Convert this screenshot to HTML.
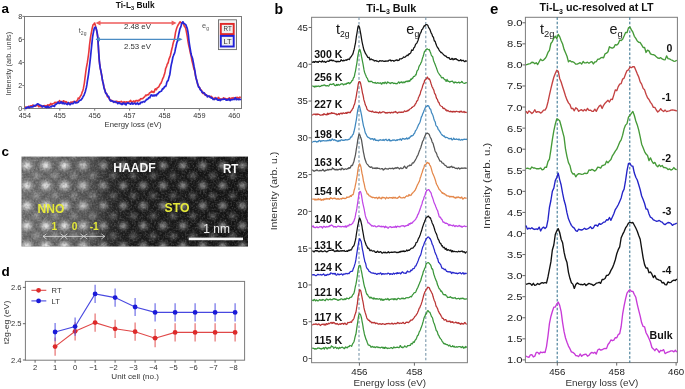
<!DOCTYPE html><html><head><meta charset="utf-8"><style>html,body{margin:0;padding:0;background:#fff;}svg{display:block;will-change:transform;font-family:"Liberation Sans",sans-serif;}</style></head><body><svg width="685" height="389" viewBox="0 0 685 389" font-family='"Liberation Sans", sans-serif'>
<rect width="685" height="389" fill="#fff"/>
<rect x="24.5" y="16.5" width="217.0" height="92.0" fill="none" stroke="#7a7a7a" stroke-width="1"/>
<line x1="24.90" y1="108.50" x2="24.90" y2="110.70" stroke="#7a7a7a" stroke-width="1"/>
<text x="24.9" y="117.6" font-size="7.4" text-anchor="middle" fill="#333" textLength="12.2" lengthAdjust="spacingAndGlyphs">454</text>
<line x1="59.80" y1="108.50" x2="59.80" y2="110.70" stroke="#7a7a7a" stroke-width="1"/>
<text x="59.8" y="117.6" font-size="7.4" text-anchor="middle" fill="#333" textLength="12.2" lengthAdjust="spacingAndGlyphs">455</text>
<line x1="94.70" y1="108.50" x2="94.70" y2="110.70" stroke="#7a7a7a" stroke-width="1"/>
<text x="94.7" y="117.6" font-size="7.4" text-anchor="middle" fill="#333" textLength="12.2" lengthAdjust="spacingAndGlyphs">456</text>
<line x1="129.60" y1="108.50" x2="129.60" y2="110.70" stroke="#7a7a7a" stroke-width="1"/>
<text x="129.6" y="117.6" font-size="7.4" text-anchor="middle" fill="#333" textLength="12.2" lengthAdjust="spacingAndGlyphs">457</text>
<line x1="164.50" y1="108.50" x2="164.50" y2="110.70" stroke="#7a7a7a" stroke-width="1"/>
<text x="164.5" y="117.6" font-size="7.4" text-anchor="middle" fill="#333" textLength="12.2" lengthAdjust="spacingAndGlyphs">458</text>
<line x1="199.40" y1="108.50" x2="199.40" y2="110.70" stroke="#7a7a7a" stroke-width="1"/>
<text x="199.4" y="117.6" font-size="7.4" text-anchor="middle" fill="#333" textLength="12.2" lengthAdjust="spacingAndGlyphs">459</text>
<line x1="234.30" y1="108.50" x2="234.30" y2="110.70" stroke="#7a7a7a" stroke-width="1"/>
<text x="234.3" y="117.6" font-size="7.4" text-anchor="middle" fill="#333" textLength="12.2" lengthAdjust="spacingAndGlyphs">460</text>
<line x1="22.30" y1="108.60" x2="24.50" y2="108.60" stroke="#7a7a7a" stroke-width="1"/>
<text x="22.2" y="111.2" font-size="7.2" text-anchor="end" fill="#333">0</text>
<line x1="22.30" y1="85.55" x2="24.50" y2="85.55" stroke="#7a7a7a" stroke-width="1"/>
<text x="22.2" y="88.1" font-size="7.2" text-anchor="end" fill="#333">2</text>
<line x1="22.30" y1="62.50" x2="24.50" y2="62.50" stroke="#7a7a7a" stroke-width="1"/>
<text x="22.2" y="65.1" font-size="7.2" text-anchor="end" fill="#333">4</text>
<line x1="22.30" y1="39.45" x2="24.50" y2="39.45" stroke="#7a7a7a" stroke-width="1"/>
<text x="22.2" y="42.0" font-size="7.2" text-anchor="end" fill="#333">6</text>
<line x1="22.30" y1="16.40" x2="24.50" y2="16.40" stroke="#7a7a7a" stroke-width="1"/>
<text x="22.2" y="19.0" font-size="7.2" text-anchor="end" fill="#333">8</text>
<text transform="translate(10.6,63.7) rotate(-90)" font-size="7" text-anchor="middle" fill="#444" textLength="63.5" lengthAdjust="spacingAndGlyphs">Intensity  (arb. units)</text>
<text x="133.0" y="126.6" font-size="7.5" text-anchor="middle" fill="#333" textLength="57.0" lengthAdjust="spacingAndGlyphs">Energy loss (eV)</text>
<text x="115.8" y="8.3" font-size="8.4" font-weight="bold" fill="#111">Ti-L<tspan font-size="5.6" dy="2">3</tspan><tspan dy="-2"> Bulk</tspan></text>
<text x="1.4" y="12.8" font-size="13.5" font-weight="bold" fill="#000">a</text>
<path d="M25.10,107.26 L25.62,107.09 L26.13,107.14 L26.65,107.57 L27.16,107.58 L27.68,107.56 L28.19,107.28 L28.71,106.25 L29.22,106.34 L29.74,106.97 L30.25,106.36 L30.77,105.75 L31.28,105.68 L31.80,105.99 L32.31,105.85 L32.83,105.03 L33.34,105.45 L33.86,105.85 L34.37,106.03 L34.89,106.32 L35.40,106.25 L35.92,105.79 L36.43,105.54 L36.95,105.32 L37.46,104.77 L37.98,105.10 L38.49,106.41 L39.01,106.81 L39.52,106.04 L40.04,105.96 L40.55,106.64 L41.07,106.88 L41.58,106.64 L42.10,106.76 L42.61,105.90 L43.13,105.86 L43.64,106.27 L44.16,105.53 L44.67,105.71 L45.19,106.07 L45.70,105.73 L46.22,105.60 L46.73,106.07 L47.25,105.98 L47.76,104.82 L48.28,105.37 L48.79,105.45 L49.31,104.63 L49.82,105.10 L50.34,104.18 L50.85,103.46 L51.37,104.61 L51.88,104.73 L52.40,103.85 L52.91,103.80 L53.43,103.59 L53.94,103.33 L54.46,103.11 L54.97,102.25 L55.49,102.55 L56.00,102.80 L56.52,102.47 L57.03,102.28 L57.55,102.36 L58.06,102.47 L58.58,101.92 L59.09,101.22 L59.61,100.63 L60.12,101.53 L60.64,102.32 L61.15,101.51 L61.67,102.00 L62.18,102.46 L62.70,101.68 L63.21,101.01 L63.73,100.76 L64.24,101.50 L64.76,102.05 L65.27,102.16 L65.79,101.54 L66.30,101.77 L66.82,102.66 L67.33,102.48 L67.85,102.53 L68.36,102.86 L68.88,103.33 L69.39,103.29 L69.91,103.01 L70.42,102.49 L70.94,101.96 L71.45,102.33 L71.97,102.18 L72.48,102.14 L73.00,101.80 L73.51,101.46 L74.03,101.43 L74.54,101.72 L75.06,101.59 L75.57,101.51 L76.09,102.20 L76.60,101.32 L77.12,100.48 L77.63,99.86 L78.15,98.11 L78.66,98.00 L79.18,98.62 L79.69,97.56 L80.21,96.37 L80.72,95.67 L81.24,94.97 L81.75,93.49 L82.27,91.81 L82.78,90.75 L83.30,88.88 L83.81,86.02 L84.33,83.31 L84.84,79.22 L85.36,75.03 L85.87,71.21 L86.39,67.65 L86.90,65.00 L87.42,62.16 L87.93,58.70 L88.45,55.06 L88.96,50.87 L89.48,45.24 L89.99,41.28 L90.51,37.36 L91.02,34.39 L91.54,31.85 L92.05,29.00 L92.57,26.79 L93.08,24.66 L93.60,24.52 L94.11,23.79 L94.63,23.00 L95.14,24.49 L95.66,26.64 L96.17,28.56 L96.69,31.12 L97.21,33.21 L97.72,36.53 L98.24,44.62 L98.75,53.81 L99.27,60.79 L99.78,65.23 L100.30,68.09 L100.81,70.79 L101.33,73.73 L101.84,76.27 L102.36,79.49 L102.87,82.15 L103.39,84.49 L103.90,86.55 L104.42,88.43 L104.93,90.18 L105.45,92.05 L105.96,93.62 L106.48,93.64 L106.99,94.71 L107.51,96.80 L108.02,97.21 L108.54,96.87 L109.05,98.22 L109.57,99.46 L110.08,99.66 L110.60,100.79 L111.11,100.66 L111.63,100.31 L112.14,100.85 L112.66,101.34 L113.17,101.29 L113.69,101.29 L114.20,101.61 L114.72,101.91 L115.23,102.40 L115.75,101.46 L116.26,101.21 L116.78,101.68 L117.29,101.53 L117.81,101.87 L118.32,102.10 L118.84,101.72 L119.35,101.69 L119.87,102.08 L120.38,102.02 L120.90,101.55 L121.41,101.36 L121.93,101.77 L122.44,102.35 L122.96,103.14 L123.47,102.59 L123.99,101.70 L124.50,102.19 L125.02,102.41 L125.53,102.06 L126.05,101.95 L126.56,101.88 L127.08,102.36 L127.59,102.06 L128.11,102.29 L128.62,102.46 L129.14,101.64 L129.65,101.51 L130.17,100.83 L130.68,100.46 L131.20,101.58 L131.71,102.77 L132.23,101.86 L132.74,101.48 L133.26,101.72 L133.77,100.85 L134.29,101.40 L134.80,102.49 L135.32,101.59 L135.83,100.58 L136.35,100.65 L136.86,100.51 L137.38,100.60 L137.89,101.07 L138.41,100.60 L138.92,100.18 L139.44,100.56 L139.95,99.72 L140.47,98.83 L140.98,98.61 L141.50,98.72 L142.01,98.87 L142.53,98.59 L143.04,98.39 L143.56,97.60 L144.07,97.25 L144.59,96.88 L145.10,96.11 L145.62,95.11 L146.13,95.48 L146.65,95.59 L147.16,94.68 L147.68,94.67 L148.19,94.83 L148.71,94.61 L149.22,93.31 L149.74,92.76 L150.25,92.63 L150.77,92.33 L151.28,91.52 L151.80,91.05 L152.31,92.09 L152.83,92.05 L153.34,91.67 L153.86,92.43 L154.37,91.57 L154.89,89.43 L155.40,88.90 L155.92,89.61 L156.43,89.69 L156.95,88.39 L157.46,87.54 L157.98,87.54 L158.49,87.13 L159.01,86.53 L159.52,85.43 L160.04,84.33 L160.55,83.56 L161.07,83.10 L161.58,81.79 L162.10,80.41 L162.61,78.89 L163.13,77.84 L163.64,76.93 L164.16,74.85 L164.67,73.64 L165.19,71.17 L165.70,68.24 L166.22,67.36 L166.73,65.92 L167.25,63.96 L167.76,63.80 L168.28,62.35 L168.79,59.81 L169.31,58.36 L169.83,57.20 L170.34,55.69 L170.86,53.55 L171.37,51.01 L171.89,48.70 L172.40,46.99 L172.92,44.27 L173.43,42.27 L173.95,40.90 L174.46,39.20 L174.98,36.08 L175.49,32.61 L176.01,30.63 L176.52,28.69 L177.04,27.26 L177.55,26.07 L178.07,25.02 L178.58,24.18 L179.10,23.42 L179.61,22.40 L180.13,21.95 L180.64,22.44 L181.16,22.91 L181.67,23.32 L182.19,22.75 L182.70,22.67 L183.22,23.74 L183.73,24.70 L184.25,25.98 L184.76,26.85 L185.28,27.19 L185.79,28.81 L186.31,31.45 L186.82,34.09 L187.34,36.97 L187.85,40.61 L188.37,43.68 L188.88,46.02 L189.40,48.19 L189.91,50.77 L190.43,53.46 L190.94,55.02 L191.46,57.78 L191.97,60.91 L192.49,62.89 L193.00,64.79 L193.52,67.41 L194.03,69.41 L194.55,70.46 L195.06,73.01 L195.58,76.06 L196.09,78.31 L196.61,79.98 L197.12,81.93 L197.64,84.32 L198.15,84.97 L198.67,86.39 L199.18,87.75 L199.70,87.75 L200.21,88.86 L200.73,89.97 L201.24,89.94 L201.76,90.85 L202.27,92.44 L202.79,93.42 L203.30,93.63 L203.82,92.90 L204.33,92.91 L204.85,94.25 L205.36,95.32 L205.88,95.43 L206.39,95.25 L206.91,95.41 L207.42,95.70 L207.94,95.75 L208.45,96.21 L208.97,96.58 L209.48,96.59 L210.00,96.82 L210.51,96.89 L211.03,96.28 L211.54,96.41 L212.06,97.30 L212.57,98.36 L213.09,98.35 L213.60,98.56 L214.12,99.37 L214.63,98.31 L215.15,97.53 L215.66,98.01 L216.18,99.07 L216.69,99.23 L217.21,98.87 L217.72,98.52 L218.24,97.38 L218.75,97.60 L219.27,98.89 L219.78,99.50 L220.30,99.24 L220.81,98.86 L221.33,99.33 L221.84,99.22 L222.36,99.23 L222.87,98.82 L223.39,97.90 L223.90,97.90 L224.42,98.50 L224.93,98.71 L225.45,98.53 L225.96,98.87 L226.48,98.91 L226.99,99.24 L227.51,99.65 L228.02,98.75 L228.54,98.20 L229.05,98.39 L229.57,97.87 L230.08,98.62 L230.60,99.32 L231.11,98.51 L231.63,98.01 L232.14,98.21 L232.66,97.93 L233.17,97.68 L233.69,98.57 L234.20,99.02 L234.72,98.18 L235.23,97.60 L235.75,98.69 L236.26,98.31 L236.78,97.28 L237.29,97.27 L237.81,97.66 L238.32,98.31 L238.84,98.60 L239.35,97.44 L239.87,97.04 L240.38,97.41 L240.90,97.59" fill="none" stroke="#e8383c" stroke-width="1.6" stroke-linejoin="round"/>
<path d="M25.10,107.66 L25.62,108.27 L26.13,108.42 L26.65,107.26 L27.16,107.53 L27.68,107.41 L28.19,106.68 L28.71,107.45 L29.22,107.68 L29.74,107.32 L30.25,106.99 L30.77,106.87 L31.28,107.03 L31.80,106.77 L32.31,106.68 L32.83,106.92 L33.34,106.35 L33.86,105.30 L34.37,105.71 L34.89,105.86 L35.40,105.27 L35.92,105.45 L36.43,104.63 L36.95,104.28 L37.46,103.89 L37.98,103.93 L38.49,104.42 L39.01,104.37 L39.52,105.11 L40.04,105.13 L40.55,105.26 L41.07,105.61 L41.58,105.85 L42.10,106.72 L42.61,106.80 L43.13,106.36 L43.64,105.96 L44.16,106.38 L44.67,106.81 L45.19,107.16 L45.70,106.90 L46.22,106.66 L46.73,107.67 L47.25,107.27 L47.76,106.09 L48.28,106.69 L48.79,107.59 L49.31,107.27 L49.82,107.27 L50.34,106.75 L50.85,106.53 L51.37,106.86 L51.88,106.14 L52.40,105.99 L52.91,105.88 L53.43,105.78 L53.94,106.26 L54.46,106.42 L54.97,104.96 L55.49,104.05 L56.00,104.37 L56.52,103.88 L57.03,103.53 L57.55,103.12 L58.06,102.07 L58.58,102.23 L59.09,103.43 L59.61,103.32 L60.12,103.23 L60.64,102.56 L61.15,101.76 L61.67,102.56 L62.18,103.57 L62.70,103.43 L63.21,102.40 L63.73,103.50 L64.24,103.97 L64.76,103.37 L65.27,103.29 L65.79,103.40 L66.30,104.05 L66.82,104.30 L67.33,104.64 L67.85,103.48 L68.36,102.74 L68.88,103.45 L69.39,104.11 L69.91,104.69 L70.42,104.45 L70.94,103.63 L71.45,103.44 L71.97,103.40 L72.48,103.74 L73.00,103.64 L73.51,103.10 L74.03,102.45 L74.54,101.57 L75.06,102.03 L75.57,102.99 L76.09,102.83 L76.60,102.64 L77.12,102.75 L77.63,102.31 L78.15,102.16 L78.66,101.57 L79.18,100.83 L79.69,100.57 L80.21,100.15 L80.72,100.06 L81.24,99.85 L81.75,99.09 L82.27,98.28 L82.78,97.26 L83.30,96.06 L83.81,95.58 L84.33,94.28 L84.84,92.88 L85.36,91.54 L85.87,89.13 L86.39,87.42 L86.90,84.68 L87.42,80.96 L87.93,78.01 L88.45,74.61 L88.96,70.57 L89.48,66.39 L89.99,61.90 L90.51,57.20 L91.02,51.96 L91.54,46.96 L92.05,41.92 L92.57,37.12 L93.08,34.15 L93.60,31.62 L94.11,28.89 L94.63,27.71 L95.14,27.28 L95.66,27.11 L96.17,28.56 L96.69,30.52 L97.21,33.40 L97.72,37.11 L98.24,44.21 L98.75,53.03 L99.27,59.96 L99.78,64.98 L100.30,68.48 L100.81,70.54 L101.33,73.17 L101.84,76.17 L102.36,79.75 L102.87,81.98 L103.39,83.80 L103.90,87.42 L104.42,89.15 L104.93,90.36 L105.45,92.49 L105.96,93.49 L106.48,93.67 L106.99,94.68 L107.51,96.07 L108.02,96.06 L108.54,96.25 L109.05,97.69 L109.57,99.08 L110.08,100.16 L110.60,100.90 L111.11,100.71 L111.63,100.69 L112.14,101.16 L112.66,101.17 L113.17,101.69 L113.69,102.27 L114.20,101.78 L114.72,101.63 L115.23,101.59 L115.75,101.75 L116.26,102.40 L116.78,102.49 L117.29,102.84 L117.81,103.73 L118.32,103.15 L118.84,102.58 L119.35,102.77 L119.87,103.52 L120.38,103.88 L120.90,103.51 L121.41,103.80 L121.93,104.55 L122.44,104.42 L122.96,103.21 L123.47,102.98 L123.99,103.66 L124.50,103.88 L125.02,103.38 L125.53,104.54 L126.05,104.93 L126.56,103.61 L127.08,103.31 L127.59,102.86 L128.11,102.70 L128.62,103.29 L129.14,103.65 L129.65,103.48 L130.17,103.84 L130.68,104.19 L131.20,103.62 L131.71,102.81 L132.23,103.25 L132.74,104.07 L133.26,103.93 L133.77,103.35 L134.29,103.42 L134.80,103.33 L135.32,103.67 L135.83,104.29 L136.35,103.91 L136.86,103.43 L137.38,102.84 L137.89,103.69 L138.41,104.38 L138.92,103.52 L139.44,103.31 L139.95,103.94 L140.47,103.13 L140.98,102.18 L141.50,102.27 L142.01,102.52 L142.53,102.15 L143.04,101.85 L143.56,101.56 L144.07,101.53 L144.59,101.98 L145.10,101.16 L145.62,100.70 L146.13,100.10 L146.65,99.28 L147.16,99.51 L147.68,99.17 L148.19,98.53 L148.71,97.80 L149.22,97.55 L149.74,97.77 L150.25,96.73 L150.77,95.38 L151.28,94.82 L151.80,95.48 L152.31,95.99 L152.83,95.19 L153.34,95.14 L153.86,95.96 L154.37,95.66 L154.89,94.87 L155.40,95.03 L155.92,95.65 L156.43,95.64 L156.95,94.41 L157.46,93.82 L157.98,93.80 L158.49,93.03 L159.01,92.32 L159.52,92.11 L160.04,91.70 L160.55,91.45 L161.07,91.29 L161.58,90.81 L162.10,89.65 L162.61,88.66 L163.13,88.83 L163.64,88.35 L164.16,87.53 L164.67,86.46 L165.19,86.34 L165.70,86.32 L166.22,85.03 L166.73,82.71 L167.25,81.20 L167.76,81.21 L168.28,80.12 L168.79,77.89 L169.31,76.24 L169.83,74.49 L170.34,70.77 L170.86,67.19 L171.37,64.40 L171.89,62.31 L172.40,59.74 L172.92,56.98 L173.43,55.75 L173.95,54.35 L174.46,53.44 L174.98,51.40 L175.49,48.56 L176.01,46.50 L176.52,43.97 L177.04,42.09 L177.55,40.82 L178.07,38.08 L178.58,35.07 L179.10,32.75 L179.61,30.27 L180.13,28.23 L180.64,27.40 L181.16,25.54 L181.67,23.47 L182.19,22.85 L182.70,21.81 L183.22,21.99 L183.73,23.38 L184.25,23.76 L184.76,23.90 L185.28,24.39 L185.79,24.64 L186.31,26.18 L186.82,27.35 L187.34,28.80 L187.85,31.31 L188.37,34.99 L188.88,39.99 L189.40,43.82 L189.91,47.04 L190.43,50.14 L190.94,53.29 L191.46,55.62 L191.97,56.67 L192.49,58.23 L193.00,60.62 L193.52,63.30 L194.03,66.44 L194.55,68.92 L195.06,71.90 L195.58,75.58 L196.09,78.03 L196.61,80.02 L197.12,82.00 L197.64,83.85 L198.15,85.72 L198.67,87.25 L199.18,87.08 L199.70,87.91 L200.21,89.71 L200.73,90.18 L201.24,90.44 L201.76,91.71 L202.27,92.63 L202.79,92.30 L203.30,92.56 L203.82,93.31 L204.33,93.18 L204.85,93.87 L205.36,94.81 L205.88,95.07 L206.39,94.81 L206.91,95.70 L207.42,96.87 L207.94,96.57 L208.45,96.30 L208.97,96.10 L209.48,96.05 L210.00,97.18 L210.51,97.66 L211.03,97.35 L211.54,98.12 L212.06,97.96 L212.57,98.23 L213.09,99.45 L213.60,99.35 L214.12,99.23 L214.63,99.45 L215.15,98.80 L215.66,98.51 L216.18,98.12 L216.69,98.42 L217.21,99.79 L217.72,100.10 L218.24,99.94 L218.75,100.20 L219.27,99.72 L219.78,99.54 L220.30,100.58 L220.81,100.07 L221.33,99.34 L221.84,99.50 L222.36,99.42 L222.87,99.31 L223.39,99.33 L223.90,99.08 L224.42,98.92 L224.93,99.26 L225.45,99.25 L225.96,99.99 L226.48,100.22 L226.99,99.72 L227.51,99.55 L228.02,99.98 L228.54,99.38 L229.05,98.77 L229.57,99.91 L230.08,100.63 L230.60,100.24 L231.11,99.56 L231.63,99.72 L232.14,99.62 L232.66,99.57 L233.17,99.35 L233.69,99.35 L234.20,99.55 L234.72,98.81 L235.23,97.70 L235.75,98.47 L236.26,99.66 L236.78,99.55 L237.29,98.99 L237.81,99.08 L238.32,99.56 L238.84,99.07 L239.35,99.24 L239.87,99.59 L240.38,99.37 L240.90,99.81" fill="none" stroke="#2626d8" stroke-width="1.7" stroke-linejoin="round"/>
<line x1="99.00" y1="22.90" x2="173.50" y2="22.90" stroke="#ee5a5a" stroke-width="1.5"/>
<path d="M95.5,22.9 L100.5,20.4 L100.5,25.4 Z" fill="#ee5a5a"/>
<path d="M176.6,22.9 L171.6,20.4 L171.6,25.4 Z" fill="#ee5a5a"/>
<line x1="96.00" y1="39.30" x2="179.00" y2="39.30" stroke="#4a8cc4" stroke-width="1.2"/>
<path d="M95.5,39.3 L100,37.2 L100,41.4 Z" fill="#4a8cc4"/>
<path d="M182.6,39.3 L178,37.2 L178,41.4 Z" fill="#4a8cc4"/>
<text x="123.9" y="28.9" font-size="7.6" fill="#333" textLength="27.0" lengthAdjust="spacingAndGlyphs">2.48 eV</text>
<text x="123.9" y="48.6" font-size="7.6" fill="#333" textLength="27.0" lengthAdjust="spacingAndGlyphs">2.53 eV</text>
<text x="78.8" y="33.2" font-size="7.4" fill="#555">t<tspan font-size="5" dy="1.6">2g</tspan></text>
<text x="202" y="28" font-size="7.4" fill="#555">e<tspan font-size="5" dy="1.6">g</tspan></text>
<rect x="218.5" y="19.8" width="18" height="29.8" fill="#f4f4f4" stroke="#6a6a6a" stroke-width="0.9"/>
<rect x="220.8" y="23.9" width="12.9" height="10.2" fill="#efefef" stroke="#e02828" stroke-width="1.9"/>
<rect x="220.8" y="35.9" width="12.9" height="10.6" fill="#efefef" stroke="#2020d8" stroke-width="1.9"/>
<text x="227.6" y="31.3" font-size="7.2" text-anchor="middle" fill="#333" textLength="8.2" lengthAdjust="spacingAndGlyphs">RT</text>
<text x="227.6" y="43.9" font-size="7.2" text-anchor="middle" fill="#333" textLength="8.2" lengthAdjust="spacingAndGlyphs">LT</text>
<rect x="311.6" y="17.3" width="155.79999999999995" height="345.4" fill="none" stroke="#7c7c7c" stroke-width="1"/>
<line x1="308.60" y1="358.50" x2="311.60" y2="358.50" stroke="#666" stroke-width="1"/>
<text x="307.8" y="361.9" font-size="9.6" text-anchor="end" fill="#222">0</text>
<line x1="308.60" y1="321.72" x2="311.60" y2="321.72" stroke="#666" stroke-width="1"/>
<text x="307.8" y="325.1" font-size="9.6" text-anchor="end" fill="#222">5</text>
<line x1="308.60" y1="284.94" x2="311.60" y2="284.94" stroke="#666" stroke-width="1"/>
<text x="307.8" y="288.3" font-size="9.6" text-anchor="end" fill="#222">10</text>
<line x1="308.60" y1="248.16" x2="311.60" y2="248.16" stroke="#666" stroke-width="1"/>
<text x="307.8" y="251.6" font-size="9.6" text-anchor="end" fill="#222">15</text>
<line x1="308.60" y1="211.38" x2="311.60" y2="211.38" stroke="#666" stroke-width="1"/>
<text x="307.8" y="214.8" font-size="9.6" text-anchor="end" fill="#222">20</text>
<line x1="308.60" y1="174.60" x2="311.60" y2="174.60" stroke="#666" stroke-width="1"/>
<text x="307.8" y="178.0" font-size="9.6" text-anchor="end" fill="#222">25</text>
<line x1="308.60" y1="137.82" x2="311.60" y2="137.82" stroke="#666" stroke-width="1"/>
<text x="307.8" y="141.2" font-size="9.6" text-anchor="end" fill="#222">30</text>
<line x1="308.60" y1="101.04" x2="311.60" y2="101.04" stroke="#666" stroke-width="1"/>
<text x="307.8" y="104.4" font-size="9.6" text-anchor="end" fill="#222">35</text>
<line x1="308.60" y1="64.26" x2="311.60" y2="64.26" stroke="#666" stroke-width="1"/>
<text x="307.8" y="67.7" font-size="9.6" text-anchor="end" fill="#222">40</text>
<line x1="308.60" y1="27.48" x2="311.60" y2="27.48" stroke="#666" stroke-width="1"/>
<text x="307.8" y="30.9" font-size="9.6" text-anchor="end" fill="#222">45</text>
<line x1="359.40" y1="362.70" x2="359.40" y2="365.70" stroke="#666" stroke-width="1"/>
<text x="359.4" y="374.8" font-size="9.4" text-anchor="middle" fill="#222" textLength="16.3" lengthAdjust="spacingAndGlyphs">456</text>
<line x1="414.40" y1="362.70" x2="414.40" y2="365.70" stroke="#666" stroke-width="1"/>
<text x="414.4" y="374.8" font-size="9.4" text-anchor="middle" fill="#222" textLength="16.3" lengthAdjust="spacingAndGlyphs">458</text>
<text x="389.8" y="385.6" font-size="9.4" text-anchor="middle" fill="#333" textLength="72.7" lengthAdjust="spacingAndGlyphs">Energy loss (eV)</text>
<text transform="translate(276.8,191) rotate(-90)" font-size="9.6" text-anchor="middle" fill="#333" textLength="78.7" lengthAdjust="spacingAndGlyphs">Intensity (arb. u.)</text>
<text x="366.3" y="11.9" font-size="10.8" font-weight="bold" fill="#111">Ti-L<tspan font-size="7" dy="2.4">3</tspan><tspan dy="-2.4"> Bulk</tspan></text>
<text x="274.4" y="13.7" font-size="14" font-weight="bold" fill="#000">b</text>
<line x1="359.00" y1="17.30" x2="359.00" y2="362.70" stroke="#7a97aa" stroke-width="1.1" stroke-dasharray="2.6,2"/>
<line x1="425.80" y1="17.30" x2="425.80" y2="362.70" stroke="#7a97aa" stroke-width="1.1" stroke-dasharray="2.6,2"/>
<path d="M312.20,62.16 L312.67,62.29 L313.14,61.79 L313.61,61.72 L314.08,62.34 L314.55,62.43 L315.02,61.62 L315.49,61.30 L315.96,61.58 L316.43,62.05 L316.90,61.82 L317.37,61.73 L317.84,62.30 L318.31,62.38 L318.78,61.55 L319.25,61.23 L319.72,61.32 L320.19,61.54 L320.66,61.62 L321.13,61.66 L321.60,62.01 L322.07,61.03 L322.54,60.73 L323.01,61.68 L323.48,61.95 L323.95,61.69 L324.42,61.28 L324.89,61.53 L325.36,62.47 L325.83,62.39 L326.30,61.81 L326.77,61.66 L327.24,61.21 L327.71,61.08 L328.18,61.15 L328.65,61.49 L329.12,61.34 L329.59,60.16 L330.06,60.02 L330.53,60.45 L331.00,60.51 L331.47,59.92 L331.94,60.22 L332.41,60.83 L332.88,60.46 L333.35,60.29 L333.82,60.71 L334.29,61.00 L334.76,61.08 L335.23,61.26 L335.70,61.31 L336.17,61.78 L336.64,61.79 L337.11,61.16 L337.58,61.47 L338.04,61.81 L338.51,61.27 L338.98,61.50 L339.45,61.62 L339.92,61.58 L340.39,61.23 L340.86,60.11 L341.33,59.78 L341.80,60.52 L342.27,60.87 L342.74,60.69 L343.21,60.82 L343.68,60.28 L344.15,60.65 L344.62,60.70 L345.09,60.19 L345.56,59.95 L346.03,59.74 L346.50,60.26 L346.97,60.06 L347.44,59.42 L347.91,59.29 L348.38,59.12 L348.85,59.03 L349.32,59.54 L349.79,58.73 L350.26,57.40 L350.73,57.13 L351.20,56.74 L351.67,55.75 L352.14,55.07 L352.61,54.61 L353.08,53.32 L353.55,51.27 L354.02,49.95 L354.49,47.94 L354.96,45.38 L355.43,43.46 L355.90,39.90 L356.37,36.40 L356.84,33.97 L357.31,31.01 L357.78,27.81 L358.25,25.77 L358.72,25.87 L359.19,26.83 L359.66,28.02 L360.13,30.54 L360.60,33.23 L361.07,35.78 L361.54,38.81 L362.01,41.58 L362.48,43.81 L362.95,45.85 L363.42,48.01 L363.89,49.89 L364.36,50.86 L364.83,51.97 L365.30,53.18 L365.77,53.84 L366.24,54.77 L366.71,55.15 L367.18,56.21 L367.65,57.21 L368.12,57.50 L368.59,57.57 L369.06,57.27 L369.53,58.79 L370.00,59.91 L370.47,59.31 L370.94,58.96 L371.41,59.13 L371.88,59.57 L372.35,59.81 L372.82,59.72 L373.29,60.02 L373.76,60.01 L374.23,60.81 L374.70,61.02 L375.17,60.72 L375.64,60.69 L376.11,60.50 L376.58,61.15 L377.05,61.02 L377.52,61.08 L377.99,61.53 L378.46,61.78 L378.93,61.54 L379.40,60.91 L379.87,60.61 L380.34,60.84 L380.81,60.85 L381.28,60.82 L381.75,61.20 L382.22,61.03 L382.69,60.67 L383.16,60.97 L383.63,61.39 L384.10,61.33 L384.57,61.23 L385.04,61.46 L385.51,61.14 L385.98,60.95 L386.45,61.10 L386.92,61.21 L387.39,61.21 L387.86,60.79 L388.33,61.00 L388.80,60.44 L389.27,60.14 L389.73,60.18 L390.20,59.94 L390.67,60.67 L391.14,61.04 L391.61,60.64 L392.08,60.44 L392.55,60.50 L393.02,60.54 L393.49,61.06 L393.96,60.97 L394.43,61.03 L394.90,60.76 L395.37,60.20 L395.84,60.46 L396.31,60.21 L396.78,59.79 L397.25,60.08 L397.72,60.62 L398.19,60.39 L398.66,60.36 L399.13,60.21 L399.60,58.92 L400.07,58.81 L400.54,58.97 L401.01,58.91 L401.48,58.86 L401.95,58.36 L402.42,58.29 L402.89,57.82 L403.36,57.04 L403.83,56.94 L404.30,57.23 L404.77,57.36 L405.24,56.96 L405.71,56.45 L406.18,56.08 L406.65,55.71 L407.12,55.10 L407.59,55.37 L408.06,55.64 L408.53,54.34 L409.00,53.94 L409.47,54.03 L409.94,53.53 L410.41,53.22 L410.88,52.57 L411.35,50.79 L411.82,49.87 L412.29,50.37 L412.76,50.35 L413.23,49.42 L413.70,48.09 L414.17,47.44 L414.64,47.16 L415.11,45.76 L415.58,44.37 L416.05,43.83 L416.52,43.48 L416.99,42.84 L417.46,41.65 L417.93,40.78 L418.40,39.19 L418.87,37.54 L419.34,36.46 L419.81,34.49 L420.28,33.09 L420.75,32.87 L421.22,31.81 L421.69,29.95 L422.16,29.39 L422.63,29.05 L423.10,27.91 L423.57,27.28 L424.04,26.05 L424.51,25.70 L424.98,26.07 L425.45,25.08 L425.92,24.65 L426.39,24.53 L426.86,24.56 L427.33,25.04 L427.80,25.29 L428.27,26.57 L428.74,27.74 L429.21,28.20 L429.68,29.17 L430.15,29.96 L430.62,31.44 L431.09,32.90 L431.56,33.56 L432.03,34.47 L432.50,36.16 L432.97,36.83 L433.44,37.07 L433.91,39.34 L434.38,41.11 L434.85,40.93 L435.32,41.83 L435.79,43.57 L436.26,44.85 L436.73,46.02 L437.20,46.90 L437.67,47.73 L438.14,48.22 L438.61,48.92 L439.08,50.01 L439.55,50.93 L440.02,51.44 L440.49,51.94 L440.96,52.54 L441.42,52.45 L441.89,52.77 L442.36,53.40 L442.83,53.84 L443.30,54.39 L443.77,54.93 L444.24,55.41 L444.71,55.46 L445.18,56.02 L445.65,56.14 L446.12,56.06 L446.59,56.98 L447.06,57.40 L447.53,57.60 L448.00,57.61 L448.47,57.83 L448.94,57.71 L449.41,57.91 L449.88,59.17 L450.35,59.31 L450.82,59.38 L451.29,59.30 L451.76,58.46 L452.23,58.37 L452.70,59.25 L453.17,59.82 L453.64,58.94 L454.11,58.70 L454.58,59.36 L455.05,59.22 L455.52,58.53 L455.99,58.54 L456.46,59.36 L456.93,59.74 L457.40,59.66 L457.87,60.04 L458.34,60.64 L458.81,60.49 L459.28,60.52 L459.75,60.62 L460.22,60.34 L460.69,59.63 L461.16,59.99 L461.63,60.82 L462.10,60.65 L462.57,60.52 L463.04,60.18 L463.51,60.52 L463.98,61.16 L464.45,61.56 L464.92,61.63 L465.39,60.98 L465.86,60.70 L466.33,61.24 L466.80,61.41" fill="none" stroke="#111111" stroke-width="1.25" stroke-linejoin="round"/>
<text x="314.2" y="57.9" font-size="10.6" font-weight="bold" fill="#111" textLength="28.2" lengthAdjust="spacingAndGlyphs">300 K</text>
<path d="M312.20,86.19 L312.67,86.02 L313.14,86.20 L313.61,86.42 L314.08,86.80 L314.55,87.07 L315.02,85.96 L315.49,86.27 L315.96,86.87 L316.43,86.09 L316.90,86.08 L317.37,86.39 L317.84,86.27 L318.31,86.00 L318.78,85.99 L319.25,86.57 L319.72,86.57 L320.19,86.22 L320.66,86.33 L321.13,85.97 L321.60,85.57 L322.07,85.34 L322.54,85.68 L323.01,85.65 L323.48,85.10 L323.95,85.01 L324.42,84.92 L324.89,85.31 L325.36,85.78 L325.83,85.44 L326.30,85.79 L326.77,85.94 L327.24,85.61 L327.71,85.71 L328.18,86.00 L328.65,86.03 L329.12,85.33 L329.59,84.59 L330.06,84.08 L330.53,84.21 L331.00,84.43 L331.47,84.56 L331.94,84.31 L332.41,84.11 L332.88,84.10 L333.35,83.56 L333.82,83.88 L334.29,85.05 L334.76,85.44 L335.23,85.53 L335.70,85.72 L336.17,84.90 L336.64,84.48 L337.11,85.39 L337.58,85.24 L338.04,84.34 L338.51,84.63 L338.98,85.22 L339.45,85.17 L339.92,84.82 L340.39,84.47 L340.86,84.13 L341.33,83.90 L341.80,83.85 L342.27,83.75 L342.74,83.85 L343.21,84.71 L343.68,84.90 L344.15,84.24 L344.62,84.25 L345.09,83.98 L345.56,83.88 L346.03,84.37 L346.50,83.70 L346.97,83.08 L347.44,83.34 L347.91,83.13 L348.38,82.71 L348.85,82.73 L349.32,83.65 L349.79,83.76 L350.26,82.86 L350.73,82.65 L351.20,82.07 L351.67,80.92 L352.14,80.57 L352.61,80.62 L353.08,78.95 L353.55,77.66 L354.02,77.39 L354.49,75.59 L354.96,73.18 L355.43,71.28 L355.90,68.65 L356.37,65.78 L356.84,63.30 L357.31,59.95 L357.78,56.33 L358.25,53.79 L358.72,51.74 L359.19,50.27 L359.66,49.26 L360.13,50.13 L360.60,52.00 L361.07,53.78 L361.54,56.64 L362.01,58.98 L362.48,61.30 L362.95,63.72 L363.42,66.35 L363.89,69.21 L364.36,71.53 L364.83,73.00 L365.30,74.23 L365.77,75.32 L366.24,76.54 L366.71,77.63 L367.18,78.10 L367.65,79.06 L368.12,80.58 L368.59,81.47 L369.06,81.83 L369.53,81.26 L370.00,81.33 L370.47,81.66 L370.94,81.39 L371.41,81.39 L371.88,81.39 L372.35,82.09 L372.82,82.57 L373.29,82.60 L373.76,82.56 L374.23,82.82 L374.70,82.95 L375.17,82.32 L375.64,82.90 L376.11,83.37 L376.58,83.16 L377.05,83.21 L377.52,82.68 L377.99,82.79 L378.46,82.83 L378.93,83.33 L379.40,83.24 L379.87,82.94 L380.34,83.10 L380.81,82.86 L381.28,83.89 L381.75,84.19 L382.22,83.30 L382.69,82.56 L383.16,82.54 L383.63,82.95 L384.10,83.48 L384.57,83.10 L385.04,82.07 L385.51,82.52 L385.98,83.16 L386.45,83.68 L386.92,83.33 L387.39,81.95 L387.86,82.00 L388.33,82.45 L388.80,82.50 L389.27,83.20 L389.73,82.94 L390.20,83.01 L390.67,83.49 L391.14,82.99 L391.61,82.63 L392.08,82.57 L392.55,82.71 L393.02,83.07 L393.49,83.58 L393.96,83.30 L394.43,83.10 L394.90,83.51 L395.37,83.66 L395.84,83.38 L396.31,83.53 L396.78,83.78 L397.25,83.68 L397.72,83.16 L398.19,82.48 L398.66,81.86 L399.13,82.43 L399.60,83.24 L400.07,82.43 L400.54,82.24 L401.01,82.59 L401.48,81.92 L401.95,81.87 L402.42,82.73 L402.89,82.98 L403.36,82.44 L403.83,81.85 L404.30,82.32 L404.77,82.64 L405.24,81.95 L405.71,81.35 L406.18,81.62 L406.65,81.49 L407.12,80.97 L407.59,81.60 L408.06,81.72 L408.53,80.85 L409.00,80.74 L409.47,81.35 L409.94,81.02 L410.41,79.84 L410.88,78.96 L411.35,79.58 L411.82,78.90 L412.29,78.18 L412.76,78.28 L413.23,77.06 L413.70,76.53 L414.17,76.31 L414.64,76.38 L415.11,75.56 L415.58,74.69 L416.05,74.91 L416.52,72.94 L416.99,71.01 L417.46,70.37 L417.93,69.87 L418.40,68.90 L418.87,66.97 L419.34,65.75 L419.81,65.03 L420.28,64.62 L420.75,63.36 L421.22,62.34 L421.69,61.46 L422.16,59.37 L422.63,57.80 L423.10,56.55 L423.57,54.99 L424.04,53.11 L424.51,51.53 L424.98,51.14 L425.45,50.28 L425.92,49.78 L426.39,49.70 L426.86,48.79 L427.33,48.90 L427.80,49.30 L428.27,49.54 L428.74,49.82 L429.21,49.46 L429.68,50.47 L430.15,51.80 L430.62,52.85 L431.09,54.40 L431.56,55.69 L432.03,56.11 L432.50,56.25 L432.97,57.87 L433.44,60.18 L433.91,61.43 L434.38,62.61 L434.85,63.86 L435.32,64.91 L435.79,66.28 L436.26,67.34 L436.73,68.73 L437.20,70.11 L437.67,71.48 L438.14,72.45 L438.61,73.24 L439.08,73.98 L439.55,74.62 L440.02,75.26 L440.49,75.48 L440.96,76.58 L441.42,77.55 L441.89,77.92 L442.36,77.90 L442.83,77.49 L443.30,77.85 L443.77,78.86 L444.24,78.99 L444.71,79.65 L445.18,79.91 L445.65,79.88 L446.12,81.45 L446.59,80.60 L447.06,79.39 L447.53,80.72 L448.00,81.31 L448.47,81.18 L448.94,81.32 L449.41,81.84 L449.88,82.19 L450.35,81.66 L450.82,81.45 L451.29,81.30 L451.76,81.41 L452.23,81.11 L452.70,81.43 L453.17,82.15 L453.64,82.59 L454.11,83.12 L454.58,82.13 L455.05,82.08 L455.52,82.38 L455.99,82.14 L456.46,82.67 L456.93,82.80 L457.40,82.67 L457.87,82.74 L458.34,82.37 L458.81,82.04 L459.28,82.49 L459.75,83.01 L460.22,82.76 L460.69,82.53 L461.16,82.32 L461.63,81.46 L462.10,81.54 L462.57,82.42 L463.04,82.76 L463.51,83.04 L463.98,83.29 L464.45,83.36 L464.92,83.21 L465.39,83.04 L465.86,82.69 L466.33,82.70 L466.80,83.02" fill="none" stroke="#3a963a" stroke-width="1.25" stroke-linejoin="round"/>
<text x="314.2" y="81.0" font-size="10.6" font-weight="bold" fill="#111" textLength="28.2" lengthAdjust="spacingAndGlyphs">256 K</text>
<path d="M312.20,115.39 L312.67,114.86 L313.14,114.29 L313.61,114.24 L314.08,114.13 L314.55,114.21 L315.02,114.53 L315.49,114.76 L315.96,113.81 L316.43,114.41 L316.90,114.89 L317.37,113.94 L317.84,114.17 L318.31,114.45 L318.78,114.16 L319.25,114.61 L319.72,114.87 L320.19,114.92 L320.66,115.26 L321.13,115.16 L321.60,114.97 L322.07,114.71 L322.54,114.50 L323.01,114.99 L323.48,114.48 L323.95,113.62 L324.42,114.02 L324.89,114.49 L325.36,114.73 L325.83,114.41 L326.30,114.22 L326.77,114.90 L327.24,114.74 L327.71,113.16 L328.18,113.91 L328.65,114.41 L329.12,113.53 L329.59,113.72 L330.06,113.22 L330.53,113.39 L331.00,113.64 L331.47,112.66 L331.94,112.72 L332.41,113.33 L332.88,113.29 L333.35,113.39 L333.82,113.05 L334.29,113.34 L334.76,113.69 L335.23,113.91 L335.70,114.07 L336.17,113.75 L336.64,114.85 L337.11,114.83 L337.58,114.34 L338.04,114.46 L338.51,113.59 L338.98,113.78 L339.45,114.59 L339.92,113.72 L340.39,113.30 L340.86,113.22 L341.33,113.11 L341.80,113.85 L342.27,113.93 L342.74,113.19 L343.21,112.80 L343.68,113.14 L344.15,113.37 L344.62,113.34 L345.09,113.47 L345.56,112.72 L346.03,112.44 L346.50,113.34 L346.97,113.39 L347.44,112.67 L347.91,112.18 L348.38,112.32 L348.85,112.58 L349.32,112.34 L349.79,112.46 L350.26,112.64 L350.73,111.53 L351.20,110.89 L351.67,110.58 L352.14,109.46 L352.61,108.68 L353.08,108.21 L353.55,106.66 L354.02,105.16 L354.49,104.40 L354.96,102.53 L355.43,100.12 L355.90,98.19 L356.37,95.58 L356.84,92.44 L357.31,90.11 L357.78,87.21 L358.25,84.10 L358.72,82.26 L359.19,81.68 L359.66,81.65 L360.13,81.93 L360.60,83.27 L361.07,85.62 L361.54,87.77 L362.01,90.29 L362.48,93.09 L362.95,94.71 L363.42,97.17 L363.89,99.88 L364.36,101.22 L364.83,102.87 L365.30,104.79 L365.77,105.86 L366.24,106.49 L366.71,108.19 L367.18,109.56 L367.65,109.79 L368.12,110.39 L368.59,110.76 L369.06,111.03 L369.53,110.94 L370.00,111.20 L370.47,111.46 L370.94,111.21 L371.41,111.63 L371.88,111.85 L372.35,111.18 L372.82,111.22 L373.29,112.04 L373.76,112.25 L374.23,112.40 L374.70,112.35 L375.17,111.83 L375.64,112.23 L376.11,112.62 L376.58,112.03 L377.05,112.15 L377.52,112.48 L377.99,112.68 L378.46,113.03 L378.93,112.88 L379.40,111.94 L379.87,111.92 L380.34,112.79 L380.81,112.85 L381.28,112.74 L381.75,112.35 L382.22,112.24 L382.69,111.80 L383.16,111.79 L383.63,111.98 L384.10,111.96 L384.57,112.22 L385.04,112.77 L385.51,113.00 L385.98,112.56 L386.45,112.59 L386.92,113.25 L387.39,112.89 L387.86,112.32 L388.33,112.73 L388.80,112.68 L389.27,112.61 L389.73,112.39 L390.20,112.71 L390.67,113.12 L391.14,112.61 L391.61,112.25 L392.08,112.44 L392.55,112.66 L393.02,112.78 L393.49,112.60 L393.96,111.94 L394.43,112.23 L394.90,112.10 L395.37,111.47 L395.84,112.07 L396.31,112.06 L396.78,112.35 L397.25,113.12 L397.72,113.03 L398.19,112.58 L398.66,112.23 L399.13,112.23 L399.60,112.05 L400.07,112.52 L400.54,112.35 L401.01,112.07 L401.48,112.39 L401.95,112.01 L402.42,112.11 L402.89,112.35 L403.36,112.23 L403.83,111.72 L404.30,111.14 L404.77,110.87 L405.24,111.28 L405.71,111.61 L406.18,111.47 L406.65,110.95 L407.12,111.17 L407.59,110.77 L408.06,110.12 L408.53,110.58 L409.00,110.12 L409.47,109.32 L409.94,109.07 L410.41,108.79 L410.88,108.56 L411.35,108.17 L411.82,107.44 L412.29,107.46 L412.76,106.95 L413.23,106.37 L413.70,106.26 L414.17,106.02 L414.64,105.50 L415.11,104.26 L415.58,103.83 L416.05,103.05 L416.52,101.65 L416.99,100.84 L417.46,100.65 L417.93,99.72 L418.40,97.70 L418.87,96.74 L419.34,95.70 L419.81,94.95 L420.28,93.46 L420.75,91.57 L421.22,90.15 L421.69,89.15 L422.16,87.84 L422.63,85.98 L423.10,84.62 L423.57,83.58 L424.04,82.84 L424.51,80.74 L424.98,79.83 L425.45,79.93 L425.92,79.09 L426.39,78.70 L426.86,77.93 L427.33,76.97 L427.80,77.68 L428.27,79.07 L428.74,78.96 L429.21,78.71 L429.68,79.63 L430.15,80.56 L430.62,82.16 L431.09,83.73 L431.56,85.12 L432.03,86.79 L432.50,87.35 L432.97,88.45 L433.44,89.37 L433.91,90.45 L434.38,92.69 L434.85,93.74 L435.32,94.20 L435.79,95.50 L436.26,97.61 L436.73,98.75 L437.20,98.97 L437.67,100.24 L438.14,101.85 L438.61,102.25 L439.08,102.77 L439.55,104.21 L440.02,105.08 L440.49,105.62 L440.96,106.01 L441.42,106.28 L441.89,106.52 L442.36,106.79 L442.83,108.07 L443.30,108.55 L443.77,108.11 L444.24,108.41 L444.71,108.65 L445.18,109.22 L445.65,110.09 L446.12,109.82 L446.59,110.05 L447.06,111.20 L447.53,110.69 L448.00,110.38 L448.47,110.93 L448.94,111.26 L449.41,111.69 L449.88,111.71 L450.35,111.49 L450.82,111.09 L451.29,111.78 L451.76,111.73 L452.23,111.44 L452.70,112.07 L453.17,111.54 L453.64,111.28 L454.11,112.03 L454.58,111.47 L455.05,111.30 L455.52,111.85 L455.99,111.55 L456.46,111.21 L456.93,111.46 L457.40,111.62 L457.87,111.74 L458.34,111.74 L458.81,111.77 L459.28,112.27 L459.75,111.45 L460.22,111.26 L460.69,111.85 L461.16,111.27 L461.63,111.21 L462.10,112.20 L462.57,112.10 L463.04,112.24 L463.51,112.13 L463.98,111.39 L464.45,111.95 L464.92,112.55 L465.39,112.32 L465.86,112.14 L466.33,112.52 L466.80,112.36" fill="none" stroke="#ba3434" stroke-width="1.25" stroke-linejoin="round"/>
<text x="314.2" y="107.5" font-size="10.6" font-weight="bold" fill="#111" textLength="28.2" lengthAdjust="spacingAndGlyphs">227 K</text>
<path d="M312.20,141.95 L312.67,142.09 L313.14,141.56 L313.61,141.50 L314.08,141.27 L314.55,141.57 L315.02,141.48 L315.49,141.14 L315.96,141.53 L316.43,141.90 L316.90,142.07 L317.37,141.51 L317.84,141.44 L318.31,141.53 L318.78,140.88 L319.25,140.56 L319.72,140.40 L320.19,140.82 L320.66,141.65 L321.13,141.23 L321.60,140.78 L322.07,140.74 L322.54,140.82 L323.01,140.79 L323.48,140.52 L323.95,140.67 L324.42,140.77 L324.89,140.86 L325.36,140.93 L325.83,140.97 L326.30,140.71 L326.77,140.91 L327.24,140.62 L327.71,140.42 L328.18,140.57 L328.65,140.45 L329.12,140.70 L329.59,139.86 L330.06,139.71 L330.53,140.60 L331.00,140.58 L331.47,140.17 L331.94,139.21 L332.41,139.05 L332.88,139.50 L333.35,139.99 L333.82,140.31 L334.29,139.92 L334.76,139.60 L335.23,140.15 L335.70,140.63 L336.17,140.38 L336.64,140.94 L337.11,141.07 L337.58,140.83 L338.04,141.56 L338.51,141.26 L338.98,140.33 L339.45,140.63 L339.92,141.20 L340.39,140.56 L340.86,140.01 L341.33,140.12 L341.80,139.71 L342.27,140.15 L342.74,140.30 L343.21,140.15 L343.68,140.37 L344.15,140.26 L344.62,140.18 L345.09,139.72 L345.56,139.60 L346.03,139.91 L346.50,139.94 L346.97,139.68 L347.44,139.75 L347.91,139.89 L348.38,139.46 L348.85,139.31 L349.32,139.12 L349.79,138.90 L350.26,137.93 L350.73,136.96 L351.20,137.02 L351.67,136.93 L352.14,135.70 L352.61,134.75 L353.08,134.45 L353.55,133.18 L354.02,131.52 L354.49,129.33 L354.96,127.28 L355.43,124.59 L355.90,122.09 L356.37,119.53 L356.84,116.43 L357.31,112.95 L357.78,109.88 L358.25,108.17 L358.72,106.32 L359.19,105.54 L359.66,106.76 L360.13,108.60 L360.60,110.64 L361.07,112.85 L361.54,115.04 L362.01,117.87 L362.48,120.69 L362.95,123.21 L363.42,125.55 L363.89,127.37 L364.36,128.53 L364.83,130.97 L365.30,132.91 L365.77,133.65 L366.24,134.49 L366.71,135.52 L367.18,136.44 L367.65,137.06 L368.12,137.28 L368.59,137.32 L369.06,137.93 L369.53,138.13 L370.00,138.39 L370.47,139.21 L370.94,139.11 L371.41,138.68 L371.88,139.05 L372.35,138.94 L372.82,138.61 L373.29,139.37 L373.76,140.09 L374.23,139.32 L374.70,138.69 L375.17,139.48 L375.64,140.36 L376.11,140.38 L376.58,140.21 L377.05,140.55 L377.52,140.42 L377.99,140.36 L378.46,140.79 L378.93,140.12 L379.40,139.98 L379.87,140.31 L380.34,139.92 L380.81,139.65 L381.28,139.98 L381.75,140.24 L382.22,140.41 L382.69,139.87 L383.16,139.41 L383.63,140.33 L384.10,140.54 L384.57,139.97 L385.04,139.82 L385.51,139.47 L385.98,139.18 L386.45,139.93 L386.92,140.39 L387.39,140.62 L387.86,140.51 L388.33,140.05 L388.80,139.26 L389.27,139.26 L389.73,140.78 L390.20,141.01 L390.67,140.30 L391.14,140.47 L391.61,140.77 L392.08,140.47 L392.55,140.07 L393.02,139.98 L393.49,140.35 L393.96,140.03 L394.43,139.90 L394.90,140.28 L395.37,140.52 L395.84,140.59 L396.31,139.91 L396.78,140.15 L397.25,140.35 L397.72,139.57 L398.19,139.63 L398.66,139.75 L399.13,139.94 L399.60,139.56 L400.07,138.81 L400.54,139.11 L401.01,139.97 L401.48,140.32 L401.95,139.40 L402.42,138.46 L402.89,138.61 L403.36,138.69 L403.83,138.91 L404.30,139.28 L404.77,139.00 L405.24,138.72 L405.71,139.10 L406.18,138.82 L406.65,137.79 L407.12,138.32 L407.59,139.03 L408.06,138.39 L408.53,137.98 L409.00,138.65 L409.47,137.96 L409.94,136.91 L410.41,137.05 L410.88,136.13 L411.35,135.60 L411.82,136.14 L412.29,135.75 L412.76,135.39 L413.23,135.18 L413.70,134.19 L414.17,133.53 L414.64,133.16 L415.11,131.75 L415.58,130.58 L416.05,130.05 L416.52,129.28 L416.99,128.45 L417.46,127.16 L417.93,126.27 L418.40,125.03 L418.87,124.16 L419.34,123.62 L419.81,122.49 L420.28,121.22 L420.75,119.28 L421.22,117.36 L421.69,116.36 L422.16,115.46 L422.63,114.01 L423.10,112.94 L423.57,111.94 L424.04,110.50 L424.51,109.58 L424.98,108.59 L425.45,107.20 L425.92,106.78 L426.39,106.61 L426.86,106.55 L427.33,105.54 L427.80,105.63 L428.27,106.03 L428.74,105.90 L429.21,107.16 L429.68,108.53 L430.15,109.02 L430.62,109.16 L431.09,110.93 L431.56,112.80 L432.03,113.44 L432.50,114.55 L432.97,115.57 L433.44,117.19 L433.91,118.97 L434.38,120.49 L434.85,121.27 L435.32,122.34 L435.79,124.91 L436.26,125.87 L436.73,126.31 L437.20,126.70 L437.67,127.75 L438.14,129.29 L438.61,129.87 L439.08,130.18 L439.55,131.15 L440.02,132.02 L440.49,132.49 L440.96,133.51 L441.42,134.20 L441.89,134.60 L442.36,135.38 L442.83,135.42 L443.30,135.95 L443.77,136.31 L444.24,135.87 L444.71,136.56 L445.18,137.36 L445.65,137.63 L446.12,137.45 L446.59,137.33 L447.06,137.56 L447.53,137.63 L448.00,138.04 L448.47,138.41 L448.94,138.85 L449.41,138.78 L449.88,138.33 L450.35,138.80 L450.82,138.56 L451.29,138.28 L451.76,139.62 L452.23,139.89 L452.70,139.51 L453.17,139.24 L453.64,138.04 L454.11,138.59 L454.58,139.41 L455.05,139.37 L455.52,139.32 L455.99,139.08 L456.46,138.81 L456.93,139.37 L457.40,139.31 L457.87,139.33 L458.34,139.77 L458.81,139.13 L459.28,139.02 L459.75,139.71 L460.22,140.19 L460.69,140.06 L461.16,139.88 L461.63,139.39 L462.10,139.80 L462.57,140.04 L463.04,139.45 L463.51,139.44 L463.98,139.51 L464.45,139.22 L464.92,139.23 L465.39,139.45 L465.86,139.44 L466.33,139.16 L466.80,139.96" fill="none" stroke="#3f88bf" stroke-width="1.25" stroke-linejoin="round"/>
<text x="314.2" y="138.1" font-size="10.6" font-weight="bold" fill="#111" textLength="28.2" lengthAdjust="spacingAndGlyphs">198 K</text>
<path d="M312.20,169.99 L312.67,170.07 L313.14,170.56 L313.61,170.78 L314.08,171.27 L314.55,171.08 L315.02,170.70 L315.49,170.41 L315.96,170.65 L316.43,170.34 L316.90,169.78 L317.37,170.30 L317.84,170.61 L318.31,170.77 L318.78,170.90 L319.25,170.81 L319.72,170.44 L320.19,170.31 L320.66,170.75 L321.13,170.77 L321.60,170.60 L322.07,170.45 L322.54,169.56 L323.01,169.40 L323.48,170.09 L323.95,170.79 L324.42,171.13 L324.89,171.13 L325.36,170.44 L325.83,170.12 L326.30,170.31 L326.77,170.22 L327.24,170.16 L327.71,169.45 L328.18,169.60 L328.65,170.03 L329.12,169.93 L329.59,169.37 L330.06,169.27 L330.53,169.74 L331.00,169.71 L331.47,169.69 L331.94,169.04 L332.41,167.78 L332.88,168.31 L333.35,168.92 L333.82,168.66 L334.29,169.45 L334.76,169.75 L335.23,169.59 L335.70,169.81 L336.17,169.19 L336.64,169.62 L337.11,170.13 L337.58,169.42 L338.04,169.71 L338.51,169.75 L338.98,169.26 L339.45,169.23 L339.92,169.34 L340.39,169.13 L340.86,169.87 L341.33,169.58 L341.80,168.16 L342.27,168.27 L342.74,168.62 L343.21,169.33 L343.68,169.63 L344.15,169.38 L344.62,169.45 L345.09,168.81 L345.56,168.80 L346.03,169.06 L346.50,169.31 L346.97,169.21 L347.44,168.46 L347.91,168.50 L348.38,168.61 L348.85,167.61 L349.32,167.57 L349.79,168.28 L350.26,167.88 L350.73,166.84 L351.20,165.52 L351.67,165.31 L352.14,165.61 L352.61,165.10 L353.08,163.60 L353.55,162.60 L354.02,161.07 L354.49,158.63 L354.96,157.06 L355.43,154.96 L355.90,152.08 L356.37,148.84 L356.84,146.24 L357.31,143.10 L357.78,139.73 L358.25,137.57 L358.72,135.32 L359.19,134.03 L359.66,134.39 L360.13,135.71 L360.60,137.32 L361.07,138.53 L361.54,140.15 L362.01,143.12 L362.48,146.12 L362.95,149.17 L363.42,152.09 L363.89,154.15 L364.36,156.56 L364.83,158.81 L365.30,160.05 L365.77,161.22 L366.24,162.77 L366.71,163.54 L367.18,164.11 L367.65,164.60 L368.12,165.08 L368.59,165.97 L369.06,166.31 L369.53,166.59 L370.00,167.12 L370.47,167.42 L370.94,167.16 L371.41,166.99 L371.88,166.96 L372.35,167.84 L372.82,168.48 L373.29,168.17 L373.76,168.08 L374.23,168.17 L374.70,168.46 L375.17,168.14 L375.64,167.97 L376.11,168.65 L376.58,168.32 L377.05,167.68 L377.52,168.32 L377.99,168.41 L378.46,168.49 L378.93,168.43 L379.40,168.29 L379.87,168.92 L380.34,168.99 L380.81,169.00 L381.28,168.83 L381.75,168.55 L382.22,168.61 L382.69,168.85 L383.16,170.03 L383.63,169.83 L384.10,169.27 L384.57,169.23 L385.04,168.26 L385.51,168.25 L385.98,168.74 L386.45,168.88 L386.92,168.79 L387.39,168.91 L387.86,169.04 L388.33,169.16 L388.80,168.58 L389.27,168.29 L389.73,168.35 L390.20,168.41 L390.67,168.68 L391.14,168.64 L391.61,168.50 L392.08,168.17 L392.55,168.22 L393.02,168.68 L393.49,168.98 L393.96,168.22 L394.43,168.04 L394.90,168.63 L395.37,168.05 L395.84,167.58 L396.31,167.85 L396.78,168.29 L397.25,167.68 L397.72,167.40 L398.19,167.93 L398.66,168.08 L399.13,168.66 L399.60,168.99 L400.07,168.36 L400.54,167.77 L401.01,167.92 L401.48,168.36 L401.95,168.69 L402.42,168.36 L402.89,168.30 L403.36,167.84 L403.83,166.93 L404.30,166.23 L404.77,166.23 L405.24,167.22 L405.71,167.68 L406.18,168.47 L406.65,168.26 L407.12,167.08 L407.59,166.43 L408.06,166.01 L408.53,165.94 L409.00,165.86 L409.47,165.61 L409.94,164.96 L410.41,165.23 L410.88,165.53 L411.35,165.29 L411.82,164.25 L412.29,162.97 L412.76,162.79 L413.23,163.08 L413.70,162.71 L414.17,161.79 L414.64,161.16 L415.11,160.43 L415.58,159.51 L416.05,158.74 L416.52,157.73 L416.99,156.57 L417.46,155.91 L417.93,154.93 L418.40,153.83 L418.87,152.34 L419.34,151.03 L419.81,149.89 L420.28,148.59 L420.75,147.78 L421.22,145.96 L421.69,144.42 L422.16,143.08 L422.63,141.21 L423.10,140.60 L423.57,139.73 L424.04,138.14 L424.51,136.98 L424.98,136.19 L425.45,134.83 L425.92,133.84 L426.39,133.45 L426.86,133.20 L427.33,133.13 L427.80,133.35 L428.27,133.76 L428.74,133.83 L429.21,134.49 L429.68,135.65 L430.15,136.98 L430.62,137.87 L431.09,138.60 L431.56,140.00 L432.03,141.66 L432.50,142.76 L432.97,143.09 L433.44,144.73 L433.91,146.78 L434.38,147.91 L434.85,150.15 L435.32,151.51 L435.79,152.15 L436.26,152.93 L436.73,153.92 L437.20,155.69 L437.67,156.69 L438.14,157.35 L438.61,158.36 L439.08,159.28 L439.55,160.31 L440.02,161.09 L440.49,161.09 L440.96,161.01 L441.42,161.60 L441.89,162.66 L442.36,162.98 L442.83,163.17 L443.30,163.41 L443.77,163.75 L444.24,164.64 L444.71,165.19 L445.18,165.36 L445.65,165.58 L446.12,165.79 L446.59,166.33 L447.06,167.24 L447.53,167.36 L448.00,167.48 L448.47,167.38 L448.94,166.85 L449.41,167.52 L449.88,167.40 L450.35,166.68 L450.82,166.95 L451.29,166.78 L451.76,166.28 L452.23,167.26 L452.70,167.59 L453.17,167.12 L453.64,167.38 L454.11,167.27 L454.58,167.68 L455.05,168.21 L455.52,168.29 L455.99,168.38 L456.46,168.19 L456.93,168.44 L457.40,168.78 L457.87,168.17 L458.34,167.89 L458.81,167.98 L459.28,168.59 L459.75,168.99 L460.22,168.59 L460.69,168.35 L461.16,168.39 L461.63,168.12 L462.10,167.97 L462.57,168.29 L463.04,168.28 L463.51,168.08 L463.98,168.26 L464.45,168.14 L464.92,167.86 L465.39,168.18 L465.86,168.33 L466.33,168.23 L466.80,167.94" fill="none" stroke="#555555" stroke-width="1.25" stroke-linejoin="round"/>
<text x="314.2" y="166.2" font-size="10.6" font-weight="bold" fill="#111" textLength="28.2" lengthAdjust="spacingAndGlyphs">163 K</text>
<path d="M312.20,199.20 L312.67,199.08 L313.14,199.09 L313.61,199.17 L314.08,199.04 L314.55,199.09 L315.02,200.14 L315.49,199.70 L315.96,199.00 L316.43,199.79 L316.90,199.88 L317.37,199.78 L317.84,199.05 L318.31,198.60 L318.78,199.76 L319.25,199.74 L319.72,199.36 L320.19,198.92 L320.66,199.12 L321.13,200.44 L321.60,200.07 L322.07,199.46 L322.54,199.61 L323.01,200.17 L323.48,199.89 L323.95,198.67 L324.42,199.41 L324.89,199.55 L325.36,199.12 L325.83,198.72 L326.30,198.38 L326.77,199.15 L327.24,198.89 L327.71,198.59 L328.18,199.04 L328.65,198.86 L329.12,198.70 L329.59,199.33 L330.06,198.35 L330.53,197.72 L331.00,198.42 L331.47,198.10 L331.94,198.35 L332.41,198.89 L332.88,198.62 L333.35,198.46 L333.82,198.41 L334.29,198.03 L334.76,198.34 L335.23,198.66 L335.70,198.41 L336.17,198.98 L336.64,199.15 L337.11,199.12 L337.58,198.86 L338.04,198.41 L338.51,198.72 L338.98,199.27 L339.45,199.21 L339.92,199.00 L340.39,198.78 L340.86,198.54 L341.33,198.99 L341.80,198.61 L342.27,198.08 L342.74,198.52 L343.21,198.33 L343.68,198.18 L344.15,198.59 L344.62,198.39 L345.09,198.46 L345.56,198.57 L346.03,198.30 L346.50,197.58 L346.97,196.95 L347.44,197.41 L347.91,197.25 L348.38,197.04 L348.85,197.28 L349.32,196.81 L349.79,196.63 L350.26,195.90 L350.73,195.62 L351.20,196.42 L351.67,195.65 L352.14,194.86 L352.61,194.70 L353.08,194.69 L353.55,193.24 L354.02,190.76 L354.49,189.28 L354.96,187.39 L355.43,184.94 L355.90,182.78 L356.37,180.23 L356.84,177.42 L357.31,174.65 L357.78,170.90 L358.25,167.74 L358.72,166.12 L359.19,164.59 L359.66,163.79 L360.13,164.69 L360.60,165.80 L361.07,167.60 L361.54,170.61 L362.01,173.46 L362.48,175.11 L362.95,177.91 L363.42,180.96 L363.89,182.65 L364.36,184.67 L364.83,187.17 L365.30,189.16 L365.77,190.19 L366.24,191.08 L366.71,192.38 L367.18,193.89 L367.65,194.10 L368.12,193.98 L368.59,194.69 L369.06,195.65 L369.53,195.98 L370.00,196.04 L370.47,196.14 L370.94,196.78 L371.41,197.19 L371.88,196.99 L372.35,197.52 L372.82,197.51 L373.29,197.26 L373.76,197.55 L374.23,197.52 L374.70,197.91 L375.17,198.13 L375.64,197.60 L376.11,197.55 L376.58,197.39 L377.05,197.91 L377.52,198.78 L377.99,198.35 L378.46,197.76 L378.93,197.20 L379.40,197.17 L379.87,198.15 L380.34,198.11 L380.81,198.12 L381.28,198.87 L381.75,197.79 L382.22,197.22 L382.69,197.84 L383.16,197.77 L383.63,197.43 L384.10,197.53 L384.57,197.72 L385.04,198.14 L385.51,198.97 L385.98,198.19 L386.45,197.27 L386.92,197.56 L387.39,197.96 L387.86,198.06 L388.33,198.34 L388.80,197.90 L389.27,197.46 L389.73,197.78 L390.20,197.86 L390.67,197.67 L391.14,197.61 L391.61,197.69 L392.08,198.21 L392.55,198.27 L393.02,197.18 L393.49,197.49 L393.96,198.20 L394.43,197.73 L394.90,197.36 L395.37,197.42 L395.84,198.21 L396.31,198.22 L396.78,198.05 L397.25,198.44 L397.72,197.86 L398.19,197.65 L398.66,197.53 L399.13,196.39 L399.60,196.36 L400.07,197.09 L400.54,197.57 L401.01,197.95 L401.48,197.95 L401.95,197.86 L402.42,197.81 L402.89,197.78 L403.36,197.43 L403.83,197.46 L404.30,197.76 L404.77,197.79 L405.24,197.10 L405.71,196.54 L406.18,196.24 L406.65,195.80 L407.12,196.10 L407.59,196.06 L408.06,196.24 L408.53,195.54 L409.00,194.49 L409.47,195.06 L409.94,195.56 L410.41,195.08 L410.88,195.00 L411.35,195.02 L411.82,193.81 L412.29,193.11 L412.76,193.04 L413.23,192.26 L413.70,191.87 L414.17,191.47 L414.64,190.64 L415.11,190.27 L415.58,189.19 L416.05,188.39 L416.52,187.03 L416.99,185.93 L417.46,184.87 L417.93,183.94 L418.40,183.23 L418.87,182.05 L419.34,181.41 L419.81,179.67 L420.28,177.67 L420.75,176.75 L421.22,175.18 L421.69,173.61 L422.16,172.52 L422.63,170.75 L423.10,169.24 L423.57,168.62 L424.04,167.06 L424.51,165.18 L424.98,164.82 L425.45,164.46 L425.92,164.17 L426.39,163.77 L426.86,162.75 L427.33,162.33 L427.80,162.97 L428.27,163.34 L428.74,162.99 L429.21,163.60 L429.68,165.12 L430.15,165.56 L430.62,166.33 L431.09,167.93 L431.56,169.54 L432.03,171.37 L432.50,172.91 L432.97,173.94 L433.44,175.02 L433.91,176.13 L434.38,177.23 L434.85,178.60 L435.32,179.99 L435.79,181.62 L436.26,183.57 L436.73,184.55 L437.20,185.25 L437.67,186.32 L438.14,187.07 L438.61,188.16 L439.08,189.28 L439.55,189.70 L440.02,190.04 L440.49,190.89 L440.96,191.39 L441.42,191.82 L441.89,192.83 L442.36,193.22 L442.83,192.73 L443.30,193.36 L443.77,193.94 L444.24,193.61 L444.71,193.80 L445.18,194.77 L445.65,194.84 L446.12,194.76 L446.59,195.68 L447.06,195.96 L447.53,195.85 L448.00,195.91 L448.47,196.29 L448.94,196.01 L449.41,196.30 L449.88,197.14 L450.35,196.75 L450.82,196.28 L451.29,196.26 L451.76,196.89 L452.23,196.97 L452.70,196.53 L453.17,196.38 L453.64,196.98 L454.11,197.52 L454.58,197.26 L455.05,197.88 L455.52,198.07 L455.99,197.24 L456.46,197.20 L456.93,197.83 L457.40,197.44 L457.87,196.92 L458.34,196.92 L458.81,197.51 L459.28,197.88 L459.75,197.32 L460.22,197.54 L460.69,198.13 L461.16,197.68 L461.63,196.97 L462.10,197.62 L462.57,198.97 L463.04,199.08 L463.51,198.60 L463.98,198.20 L464.45,197.70 L464.92,197.71 L465.39,198.15 L465.86,198.07 L466.33,198.17 L466.80,198.25" fill="none" stroke="#e4874a" stroke-width="1.25" stroke-linejoin="round"/>
<text x="314.2" y="195.0" font-size="10.6" font-weight="bold" fill="#111" textLength="28.2" lengthAdjust="spacingAndGlyphs">154 K</text>
<path d="M312.20,227.11 L312.67,226.25 L313.14,225.79 L313.61,226.91 L314.08,227.49 L314.55,227.37 L315.02,227.58 L315.49,227.68 L315.96,227.39 L316.43,226.88 L316.90,226.78 L317.37,227.32 L317.84,227.61 L318.31,227.74 L318.78,227.33 L319.25,227.03 L319.72,226.65 L320.19,226.78 L320.66,226.81 L321.13,226.53 L321.60,226.87 L322.07,227.59 L322.54,228.00 L323.01,227.13 L323.48,226.27 L323.95,226.44 L324.42,226.64 L324.89,226.83 L325.36,227.19 L325.83,227.26 L326.30,226.82 L326.77,226.47 L327.24,226.82 L327.71,226.97 L328.18,226.64 L328.65,226.32 L329.12,226.63 L329.59,226.03 L330.06,225.52 L330.53,225.90 L331.00,225.38 L331.47,224.96 L331.94,225.42 L332.41,225.59 L332.88,225.97 L333.35,226.46 L333.82,226.98 L334.29,226.54 L334.76,226.57 L335.23,226.87 L335.70,226.64 L336.17,227.24 L336.64,227.09 L337.11,226.73 L337.58,226.48 L338.04,226.01 L338.51,226.08 L338.98,226.35 L339.45,226.64 L339.92,226.67 L340.39,226.41 L340.86,226.76 L341.33,226.81 L341.80,226.65 L342.27,226.53 L342.74,226.34 L343.21,226.53 L343.68,226.85 L344.15,226.40 L344.62,226.65 L345.09,227.03 L345.56,225.93 L346.03,226.53 L346.50,227.17 L346.97,226.00 L347.44,226.21 L347.91,225.50 L348.38,225.68 L348.85,225.91 L349.32,224.44 L349.79,224.43 L350.26,224.79 L350.73,224.72 L351.20,224.64 L351.67,224.13 L352.14,223.76 L352.61,223.55 L353.08,222.18 L353.55,221.58 L354.02,220.94 L354.49,219.21 L354.96,217.92 L355.43,215.69 L355.90,212.91 L356.37,211.20 L356.84,208.45 L357.31,205.10 L357.78,202.06 L358.25,198.59 L358.72,195.70 L359.19,193.11 L359.66,191.72 L360.13,191.44 L360.60,191.89 L361.07,193.38 L361.54,195.59 L362.01,198.50 L362.48,201.39 L362.95,203.82 L363.42,205.87 L363.89,207.95 L364.36,210.23 L364.83,212.99 L365.30,215.39 L365.77,217.03 L366.24,218.44 L366.71,219.34 L367.18,220.08 L367.65,221.70 L368.12,222.95 L368.59,222.86 L369.06,223.05 L369.53,223.97 L370.00,224.04 L370.47,224.39 L370.94,225.10 L371.41,225.34 L371.88,226.06 L372.35,225.80 L372.82,225.70 L373.29,226.28 L373.76,226.25 L374.23,225.94 L374.70,225.81 L375.17,226.13 L375.64,226.72 L376.11,226.82 L376.58,226.82 L377.05,226.75 L377.52,226.22 L377.99,226.38 L378.46,225.89 L378.93,225.76 L379.40,226.26 L379.87,226.42 L380.34,226.70 L380.81,226.47 L381.28,226.09 L381.75,226.83 L382.22,226.87 L382.69,226.32 L383.16,226.37 L383.63,226.40 L384.10,227.12 L384.57,227.66 L385.04,226.69 L385.51,226.24 L385.98,227.27 L386.45,227.24 L386.92,226.91 L387.39,227.60 L387.86,228.21 L388.33,228.13 L388.80,227.31 L389.27,226.80 L389.73,226.96 L390.20,226.84 L390.67,226.56 L391.14,227.31 L391.61,227.58 L392.08,227.16 L392.55,227.44 L393.02,227.33 L393.49,226.96 L393.96,226.85 L394.43,227.25 L394.90,227.30 L395.37,226.17 L395.84,226.33 L396.31,227.48 L396.78,227.03 L397.25,226.27 L397.72,226.18 L398.19,226.69 L398.66,226.49 L399.13,226.34 L399.60,226.98 L400.07,226.88 L400.54,226.51 L401.01,226.05 L401.48,225.76 L401.95,225.95 L402.42,225.79 L402.89,225.70 L403.36,225.65 L403.83,226.05 L404.30,226.76 L404.77,225.99 L405.24,225.85 L405.71,226.10 L406.18,225.58 L406.65,225.53 L407.12,225.53 L407.59,224.80 L408.06,225.31 L408.53,225.32 L409.00,223.61 L409.47,223.69 L409.94,224.21 L410.41,223.75 L410.88,222.89 L411.35,223.21 L411.82,223.44 L412.29,222.77 L412.76,222.22 L413.23,221.67 L413.70,221.16 L414.17,220.82 L414.64,220.43 L415.11,219.88 L415.58,219.42 L416.05,218.50 L416.52,217.53 L416.99,216.98 L417.46,215.50 L417.93,214.17 L418.40,214.05 L418.87,212.52 L419.34,211.13 L419.81,210.07 L420.28,208.54 L420.75,207.27 L421.22,205.82 L421.69,204.65 L422.16,203.25 L422.63,200.96 L423.10,200.23 L423.57,199.41 L424.04,197.16 L424.51,196.18 L424.98,195.49 L425.45,193.32 L425.92,191.97 L426.39,191.13 L426.86,190.14 L427.33,190.27 L427.80,189.99 L428.27,189.73 L428.74,189.64 L429.21,190.04 L429.68,190.90 L430.15,191.70 L430.62,192.19 L431.09,193.00 L431.56,194.89 L432.03,196.58 L432.50,197.47 L432.97,198.83 L433.44,200.45 L433.91,201.97 L434.38,203.35 L434.85,204.33 L435.32,205.31 L435.79,206.80 L436.26,207.78 L436.73,209.08 L437.20,209.94 L437.67,210.77 L438.14,212.74 L438.61,214.26 L439.08,216.31 L439.55,217.13 L440.02,217.04 L440.49,217.18 L440.96,218.42 L441.42,219.12 L441.89,219.39 L442.36,220.35 L442.83,221.61 L443.30,222.29 L443.77,222.03 L444.24,222.26 L444.71,222.49 L445.18,223.40 L445.65,223.43 L446.12,223.11 L446.59,223.47 L447.06,223.59 L447.53,223.63 L448.00,224.14 L448.47,225.08 L448.94,225.67 L449.41,224.94 L449.88,224.39 L450.35,224.90 L450.82,225.37 L451.29,225.49 L451.76,225.43 L452.23,225.63 L452.70,225.93 L453.17,225.20 L453.64,224.97 L454.11,225.91 L454.58,226.46 L455.05,226.55 L455.52,225.95 L455.99,225.53 L456.46,225.87 L456.93,226.14 L457.40,226.21 L457.87,226.61 L458.34,226.14 L458.81,225.70 L459.28,225.36 L459.75,225.75 L460.22,226.61 L460.69,226.12 L461.16,226.18 L461.63,226.93 L462.10,227.18 L462.57,226.73 L463.04,226.34 L463.51,226.42 L463.98,226.23 L464.45,225.90 L464.92,226.14 L465.39,226.47 L465.86,226.67 L466.33,226.52 L466.80,226.17" fill="none" stroke="#c045e6" stroke-width="1.25" stroke-linejoin="round"/>
<text x="314.2" y="223.3" font-size="10.6" font-weight="bold" fill="#111" textLength="28.2" lengthAdjust="spacingAndGlyphs">140 K</text>
<path d="M312.20,251.18 L312.67,251.04 L313.14,251.18 L313.61,251.78 L314.08,252.01 L314.55,251.32 L315.02,250.87 L315.49,250.62 L315.96,250.76 L316.43,251.00 L316.90,250.60 L317.37,250.57 L317.84,251.20 L318.31,251.58 L318.78,251.36 L319.25,251.62 L319.72,251.52 L320.19,250.89 L320.66,251.20 L321.13,250.91 L321.60,250.86 L322.07,251.56 L322.54,251.55 L323.01,251.72 L323.48,251.52 L323.95,251.30 L324.42,250.91 L324.89,250.73 L325.36,251.09 L325.83,251.35 L326.30,251.96 L326.77,251.90 L327.24,251.69 L327.71,251.31 L328.18,250.97 L328.65,250.64 L329.12,250.27 L329.59,250.39 L330.06,250.39 L330.53,250.44 L331.00,250.18 L331.47,249.87 L331.94,250.27 L332.41,250.43 L332.88,249.44 L333.35,249.75 L333.82,250.82 L334.29,251.17 L334.76,251.70 L335.23,251.24 L335.70,250.87 L336.17,251.24 L336.64,250.73 L337.11,250.06 L337.58,250.96 L338.04,251.43 L338.51,250.95 L338.98,251.15 L339.45,251.19 L339.92,251.31 L340.39,250.94 L340.86,250.72 L341.33,251.09 L341.80,250.87 L342.27,250.67 L342.74,250.89 L343.21,251.04 L343.68,250.59 L344.15,250.49 L344.62,251.03 L345.09,251.42 L345.56,251.44 L346.03,251.44 L346.50,251.22 L346.97,250.73 L347.44,251.33 L347.91,251.30 L348.38,250.32 L348.85,250.14 L349.32,250.50 L349.79,249.97 L350.26,249.67 L350.73,250.20 L351.20,250.00 L351.67,249.21 L352.14,248.06 L352.61,247.06 L353.08,246.52 L353.55,246.30 L354.02,245.38 L354.49,243.82 L354.96,241.92 L355.43,240.14 L355.90,237.69 L356.37,234.26 L356.84,231.45 L357.31,228.48 L357.78,225.71 L358.25,223.54 L358.72,221.17 L359.19,218.89 L359.66,217.95 L360.13,218.98 L360.60,220.19 L361.07,222.02 L361.54,224.21 L362.01,226.49 L362.48,229.72 L362.95,232.20 L363.42,234.76 L363.89,237.59 L364.36,239.89 L364.83,241.36 L365.30,242.55 L365.77,244.07 L366.24,245.39 L366.71,245.93 L367.18,246.80 L367.65,248.20 L368.12,248.27 L368.59,248.08 L369.06,248.79 L369.53,250.14 L370.00,250.73 L370.47,250.22 L370.94,250.24 L371.41,250.13 L371.88,250.73 L372.35,251.15 L372.82,251.04 L373.29,250.96 L373.76,250.89 L374.23,251.08 L374.70,251.35 L375.17,252.20 L375.64,252.43 L376.11,252.24 L376.58,252.28 L377.05,251.76 L377.52,251.07 L377.99,251.41 L378.46,252.22 L378.93,252.39 L379.40,252.32 L379.87,251.86 L380.34,251.57 L380.81,251.92 L381.28,252.18 L381.75,253.00 L382.22,253.15 L382.69,252.89 L383.16,252.55 L383.63,252.19 L384.10,252.59 L384.57,252.76 L385.04,252.03 L385.51,252.21 L385.98,253.00 L386.45,252.76 L386.92,252.69 L387.39,252.75 L387.86,252.35 L388.33,251.66 L388.80,252.39 L389.27,252.94 L389.73,252.35 L390.20,252.36 L390.67,252.42 L391.14,252.49 L391.61,252.09 L392.08,252.12 L392.55,252.46 L393.02,252.29 L393.49,252.20 L393.96,252.23 L394.43,251.93 L394.90,251.85 L395.37,252.09 L395.84,252.08 L396.31,252.43 L396.78,252.65 L397.25,252.63 L397.72,252.28 L398.19,252.13 L398.66,252.50 L399.13,252.16 L399.60,251.61 L400.07,252.21 L400.54,251.79 L401.01,251.18 L401.48,251.70 L401.95,251.32 L402.42,251.21 L402.89,251.68 L403.36,250.94 L403.83,251.02 L404.30,251.68 L404.77,250.99 L405.24,251.21 L405.71,251.42 L406.18,250.86 L406.65,249.96 L407.12,250.25 L407.59,250.90 L408.06,250.26 L408.53,250.06 L409.00,250.48 L409.47,250.18 L409.94,249.55 L410.41,249.31 L410.88,248.72 L411.35,248.25 L411.82,248.16 L412.29,248.03 L412.76,248.12 L413.23,247.83 L413.70,246.93 L414.17,246.50 L414.64,245.96 L415.11,245.47 L415.58,244.34 L416.05,242.65 L416.52,242.46 L416.99,242.16 L417.46,241.18 L417.93,239.92 L418.40,238.65 L418.87,237.92 L419.34,236.95 L419.81,235.70 L420.28,234.66 L420.75,233.15 L421.22,231.68 L421.69,230.32 L422.16,228.62 L422.63,227.00 L423.10,225.60 L423.57,224.20 L424.04,223.11 L424.51,221.92 L424.98,220.45 L425.45,219.44 L425.92,218.33 L426.39,217.23 L426.86,217.21 L427.33,216.90 L427.80,216.44 L428.27,216.08 L428.74,216.36 L429.21,217.40 L429.68,217.83 L430.15,217.69 L430.62,218.43 L431.09,219.93 L431.56,220.81 L432.03,222.64 L432.50,223.87 L432.97,224.43 L433.44,225.77 L433.91,227.08 L434.38,228.54 L434.85,230.23 L435.32,231.61 L435.79,232.85 L436.26,233.42 L436.73,234.67 L437.20,236.43 L437.67,237.89 L438.14,239.29 L438.61,239.67 L439.08,240.76 L439.55,242.43 L440.02,242.96 L440.49,243.60 L440.96,243.69 L441.42,244.99 L441.89,246.12 L442.36,245.72 L442.83,246.72 L443.30,247.63 L443.77,247.58 L444.24,247.25 L444.71,248.04 L445.18,249.39 L445.65,249.09 L446.12,248.37 L446.59,249.02 L447.06,250.43 L447.53,250.06 L448.00,249.60 L448.47,249.87 L448.94,249.96 L449.41,250.57 L449.88,250.82 L450.35,250.35 L450.82,249.85 L451.29,251.09 L451.76,251.93 L452.23,250.77 L452.70,250.66 L453.17,251.72 L453.64,251.67 L454.11,251.33 L454.58,251.42 L455.05,251.59 L455.52,251.71 L455.99,251.75 L456.46,251.58 L456.93,251.74 L457.40,251.98 L457.87,251.80 L458.34,251.33 L458.81,251.20 L459.28,251.68 L459.75,251.66 L460.22,251.53 L460.69,251.38 L461.16,251.37 L461.63,251.18 L462.10,250.93 L462.57,251.54 L463.04,252.12 L463.51,251.85 L463.98,251.58 L464.45,251.91 L464.92,252.56 L465.39,253.13 L465.86,252.57 L466.33,251.76 L466.80,251.63" fill="none" stroke="#111111" stroke-width="1.25" stroke-linejoin="round"/>
<text x="314.2" y="249.3" font-size="10.6" font-weight="bold" fill="#111" textLength="28.2" lengthAdjust="spacingAndGlyphs">131 K</text>
<path d="M312.20,275.21 L312.67,274.88 L313.14,274.64 L313.61,274.84 L314.08,274.53 L314.55,274.91 L315.02,275.23 L315.49,275.63 L315.96,275.73 L316.43,275.64 L316.90,275.21 L317.37,274.61 L317.84,274.45 L318.31,274.36 L318.78,274.85 L319.25,274.85 L319.72,274.76 L320.19,274.68 L320.66,274.45 L321.13,274.95 L321.60,275.05 L322.07,274.71 L322.54,274.80 L323.01,274.53 L323.48,273.88 L323.95,274.28 L324.42,274.93 L324.89,275.52 L325.36,275.44 L325.83,274.84 L326.30,275.47 L326.77,275.21 L327.24,274.28 L327.71,274.54 L328.18,274.76 L328.65,274.72 L329.12,274.22 L329.59,274.23 L330.06,274.40 L330.53,273.14 L331.00,272.88 L331.47,273.25 L331.94,273.27 L332.41,273.80 L332.88,273.83 L333.35,273.43 L333.82,273.88 L334.29,274.05 L334.76,273.47 L335.23,273.36 L335.70,274.36 L336.17,275.08 L336.64,275.13 L337.11,274.51 L337.58,273.81 L338.04,273.92 L338.51,274.38 L338.98,274.95 L339.45,274.63 L339.92,274.20 L340.39,274.46 L340.86,274.42 L341.33,273.90 L341.80,273.84 L342.27,274.33 L342.74,275.04 L343.21,274.74 L343.68,273.96 L344.15,273.91 L344.62,274.04 L345.09,274.11 L345.56,273.68 L346.03,273.39 L346.50,273.50 L346.97,273.69 L347.44,273.83 L347.91,273.35 L348.38,273.34 L348.85,273.64 L349.32,273.26 L349.79,272.28 L350.26,271.89 L350.73,271.53 L351.20,271.31 L351.67,271.47 L352.14,271.37 L352.61,270.84 L353.08,269.17 L353.55,267.92 L354.02,266.96 L354.49,265.39 L354.96,263.89 L355.43,262.11 L355.90,259.68 L356.37,256.68 L356.84,253.58 L357.31,250.44 L357.78,247.28 L358.25,244.56 L358.72,241.99 L359.19,240.08 L359.66,238.73 L360.13,239.26 L360.60,240.66 L361.07,240.96 L361.54,243.26 L362.01,246.97 L362.48,249.62 L362.95,251.60 L363.42,254.31 L363.89,257.03 L364.36,259.24 L364.83,261.62 L365.30,262.47 L365.77,263.92 L366.24,266.46 L366.71,267.80 L367.18,268.48 L367.65,269.00 L368.12,269.55 L368.59,270.20 L369.06,271.36 L369.53,271.62 L370.00,271.58 L370.47,272.11 L370.94,272.71 L371.41,272.99 L371.88,272.92 L372.35,272.90 L372.82,273.26 L373.29,273.35 L373.76,272.95 L374.23,273.41 L374.70,273.74 L375.17,273.73 L375.64,273.31 L376.11,273.90 L376.58,274.36 L377.05,274.13 L377.52,274.21 L377.99,273.45 L378.46,273.56 L378.93,273.82 L379.40,273.92 L379.87,273.37 L380.34,272.84 L380.81,273.12 L381.28,273.86 L381.75,274.59 L382.22,273.84 L382.69,273.57 L383.16,274.01 L383.63,273.85 L384.10,274.18 L384.57,274.05 L385.04,273.65 L385.51,273.74 L385.98,273.96 L386.45,273.95 L386.92,273.96 L387.39,273.82 L387.86,273.23 L388.33,273.24 L388.80,273.43 L389.27,273.51 L389.73,274.52 L390.20,274.45 L390.67,273.66 L391.14,273.88 L391.61,273.87 L392.08,274.33 L392.55,274.40 L393.02,273.73 L393.49,273.08 L393.96,273.47 L394.43,274.19 L394.90,273.51 L395.37,273.47 L395.84,273.25 L396.31,272.93 L396.78,273.84 L397.25,273.51 L397.72,272.66 L398.19,273.40 L398.66,273.40 L399.13,273.00 L399.60,272.98 L400.07,272.97 L400.54,273.90 L401.01,273.57 L401.48,272.73 L401.95,272.17 L402.42,271.86 L402.89,272.24 L403.36,272.80 L403.83,273.12 L404.30,273.07 L404.77,273.09 L405.24,272.99 L405.71,273.45 L406.18,273.20 L406.65,272.29 L407.12,271.41 L407.59,271.03 L408.06,271.85 L408.53,271.76 L409.00,271.82 L409.47,271.99 L409.94,271.98 L410.41,271.10 L410.88,270.05 L411.35,270.59 L411.82,270.47 L412.29,269.44 L412.76,268.86 L413.23,268.61 L413.70,268.55 L414.17,268.35 L414.64,267.47 L415.11,266.34 L415.58,265.94 L416.05,265.84 L416.52,264.40 L416.99,263.47 L417.46,262.55 L417.93,261.17 L418.40,260.17 L418.87,258.56 L419.34,257.43 L419.81,256.48 L420.28,255.69 L420.75,254.80 L421.22,252.91 L421.69,250.77 L422.16,249.08 L422.63,247.37 L423.10,246.25 L423.57,245.48 L424.04,243.86 L424.51,242.57 L424.98,241.65 L425.45,240.83 L425.92,239.47 L426.39,238.60 L426.86,238.05 L427.33,237.66 L427.80,237.17 L428.27,236.97 L428.74,237.18 L429.21,237.70 L429.68,238.64 L430.15,238.47 L430.62,239.46 L431.09,240.84 L431.56,241.87 L432.03,243.86 L432.50,244.93 L432.97,245.42 L433.44,247.27 L433.91,248.65 L434.38,249.97 L434.85,251.89 L435.32,253.02 L435.79,254.28 L436.26,254.88 L436.73,256.43 L437.20,258.15 L437.67,258.51 L438.14,260.49 L438.61,262.41 L439.08,262.59 L439.55,263.12 L440.02,264.05 L440.49,264.34 L440.96,265.33 L441.42,266.72 L441.89,268.11 L442.36,268.29 L442.83,268.25 L443.30,268.70 L443.77,268.78 L444.24,269.72 L444.71,269.61 L445.18,269.16 L445.65,269.74 L446.12,270.73 L446.59,271.38 L447.06,271.40 L447.53,271.60 L448.00,271.96 L448.47,271.86 L448.94,271.57 L449.41,271.73 L449.88,272.09 L450.35,271.91 L450.82,271.79 L451.29,273.17 L451.76,273.52 L452.23,272.74 L452.70,272.31 L453.17,272.45 L453.64,272.91 L454.11,273.08 L454.58,272.85 L455.05,272.83 L455.52,273.28 L455.99,273.42 L456.46,273.10 L456.93,273.08 L457.40,273.83 L457.87,273.50 L458.34,273.22 L458.81,273.34 L459.28,273.03 L459.75,272.79 L460.22,272.61 L460.69,273.20 L461.16,273.62 L461.63,273.87 L462.10,273.31 L462.57,272.78 L463.04,272.89 L463.51,273.16 L463.98,274.27 L464.45,273.70 L464.92,273.04 L465.39,273.51 L465.86,273.53 L466.33,273.39 L466.80,273.26" fill="none" stroke="#2828cc" stroke-width="1.25" stroke-linejoin="round"/>
<text x="314.2" y="271.2" font-size="10.6" font-weight="bold" fill="#111" textLength="28.2" lengthAdjust="spacingAndGlyphs">124 K</text>
<path d="M312.20,300.71 L312.67,300.36 L313.14,300.02 L313.61,300.51 L314.08,299.79 L314.55,299.35 L315.02,300.00 L315.49,300.88 L315.96,300.72 L316.43,299.96 L316.90,300.03 L317.37,300.60 L317.84,300.82 L318.31,300.82 L318.78,300.50 L319.25,299.83 L319.72,299.57 L320.19,300.06 L320.66,300.31 L321.13,299.90 L321.60,300.13 L322.07,300.35 L322.54,299.50 L323.01,299.39 L323.48,299.78 L323.95,299.98 L324.42,300.24 L324.89,300.64 L325.36,300.65 L325.83,299.71 L326.30,299.01 L326.77,298.98 L327.24,299.38 L327.71,299.68 L328.18,300.00 L328.65,299.95 L329.12,299.43 L329.59,299.47 L330.06,299.19 L330.53,299.09 L331.00,299.82 L331.47,299.73 L331.94,299.64 L332.41,299.77 L332.88,298.94 L333.35,298.68 L333.82,299.10 L334.29,298.82 L334.76,298.63 L335.23,299.28 L335.70,299.36 L336.17,299.15 L336.64,299.61 L337.11,299.62 L337.58,300.08 L338.04,300.47 L338.51,300.04 L338.98,299.57 L339.45,299.63 L339.92,299.84 L340.39,299.38 L340.86,298.86 L341.33,298.89 L341.80,298.90 L342.27,299.23 L342.74,299.69 L343.21,299.41 L343.68,299.36 L344.15,299.57 L344.62,298.89 L345.09,298.72 L345.56,299.49 L346.03,299.19 L346.50,298.21 L346.97,298.24 L347.44,298.33 L347.91,298.37 L348.38,298.79 L348.85,298.72 L349.32,298.43 L349.79,297.42 L350.26,297.51 L350.73,297.28 L351.20,296.89 L351.67,297.06 L352.14,295.94 L352.61,295.00 L353.08,294.35 L353.55,294.05 L354.02,292.77 L354.49,291.04 L354.96,288.51 L355.43,286.10 L355.90,284.39 L356.37,281.91 L356.84,279.11 L357.31,275.99 L357.78,272.38 L358.25,269.14 L358.72,266.91 L359.19,265.52 L359.66,265.42 L360.13,265.32 L360.60,266.77 L361.07,269.68 L361.54,271.61 L362.01,274.01 L362.48,276.98 L362.95,278.99 L363.42,281.65 L363.89,284.02 L364.36,286.12 L364.83,287.84 L365.30,288.89 L365.77,290.97 L366.24,292.70 L366.71,293.86 L367.18,294.61 L367.65,294.72 L368.12,295.85 L368.59,296.42 L369.06,296.80 L369.53,297.71 L370.00,298.15 L370.47,297.45 L370.94,297.07 L371.41,297.84 L371.88,298.23 L372.35,298.10 L372.82,298.68 L373.29,299.12 L373.76,297.84 L374.23,298.06 L374.70,298.83 L375.17,298.57 L375.64,298.90 L376.11,299.16 L376.58,298.65 L377.05,298.65 L377.52,298.88 L377.99,299.09 L378.46,299.15 L378.93,299.05 L379.40,298.72 L379.87,298.54 L380.34,299.10 L380.81,300.14 L381.28,299.85 L381.75,298.85 L382.22,299.39 L382.69,300.28 L383.16,300.36 L383.63,299.44 L384.10,299.43 L384.57,299.88 L385.04,299.48 L385.51,298.94 L385.98,299.02 L386.45,299.44 L386.92,299.60 L387.39,299.05 L387.86,298.53 L388.33,299.07 L388.80,299.85 L389.27,300.06 L389.73,299.42 L390.20,299.39 L390.67,299.28 L391.14,298.92 L391.61,299.10 L392.08,298.99 L392.55,298.91 L393.02,299.37 L393.49,299.62 L393.96,298.58 L394.43,298.84 L394.90,299.71 L395.37,298.96 L395.84,298.84 L396.31,299.41 L396.78,299.75 L397.25,299.29 L397.72,298.51 L398.19,298.21 L398.66,298.48 L399.13,298.55 L399.60,298.86 L400.07,299.10 L400.54,298.94 L401.01,298.89 L401.48,298.39 L401.95,298.05 L402.42,298.55 L402.89,298.43 L403.36,298.20 L403.83,298.86 L404.30,298.69 L404.77,298.75 L405.24,298.61 L405.71,297.96 L406.18,297.93 L406.65,297.74 L407.12,297.66 L407.59,297.70 L408.06,297.91 L408.53,297.74 L409.00,297.38 L409.47,297.35 L409.94,296.89 L410.41,296.45 L410.88,296.68 L411.35,296.95 L411.82,296.20 L412.29,295.20 L412.76,294.60 L413.23,294.03 L413.70,293.26 L414.17,292.86 L414.64,292.71 L415.11,292.56 L415.58,292.18 L416.05,291.26 L416.52,290.07 L416.99,288.98 L417.46,288.14 L417.93,287.27 L418.40,286.01 L418.87,284.78 L419.34,283.70 L419.81,282.44 L420.28,281.41 L420.75,280.50 L421.22,278.79 L421.69,276.91 L422.16,275.70 L422.63,274.52 L423.10,272.28 L423.57,270.97 L424.04,270.37 L424.51,268.72 L424.98,267.77 L425.45,266.67 L425.92,264.71 L426.39,263.59 L426.86,263.27 L427.33,262.87 L427.80,262.74 L428.27,262.55 L428.74,262.76 L429.21,263.54 L429.68,263.98 L430.15,264.27 L430.62,265.06 L431.09,266.14 L431.56,268.02 L432.03,269.08 L432.50,268.98 L432.97,270.29 L433.44,272.52 L433.91,274.62 L434.38,275.84 L434.85,277.28 L435.32,278.52 L435.79,279.72 L436.26,280.95 L436.73,281.61 L437.20,283.78 L437.67,285.27 L438.14,285.95 L438.61,287.53 L439.08,288.49 L439.55,289.03 L440.02,289.36 L440.49,290.57 L440.96,291.31 L441.42,290.86 L441.89,291.64 L442.36,292.69 L442.83,293.41 L443.30,294.44 L443.77,294.70 L444.24,294.61 L444.71,294.91 L445.18,294.54 L445.65,294.84 L446.12,295.79 L446.59,295.77 L447.06,296.55 L447.53,297.61 L448.00,297.48 L448.47,297.48 L448.94,297.29 L449.41,297.32 L449.88,297.11 L450.35,296.63 L450.82,297.04 L451.29,297.74 L451.76,297.88 L452.23,297.58 L452.70,298.19 L453.17,298.40 L453.64,297.90 L454.11,298.00 L454.58,297.78 L455.05,297.52 L455.52,298.33 L455.99,298.72 L456.46,298.77 L456.93,298.67 L457.40,298.72 L457.87,298.65 L458.34,298.28 L458.81,298.30 L459.28,298.50 L459.75,299.31 L460.22,298.73 L460.69,298.35 L461.16,298.50 L461.63,298.33 L462.10,298.58 L462.57,298.16 L463.04,298.29 L463.51,298.45 L463.98,299.05 L464.45,299.24 L464.92,298.86 L465.39,299.20 L465.86,299.13 L466.33,299.00 L466.80,298.50" fill="none" stroke="#3a963a" stroke-width="1.25" stroke-linejoin="round"/>
<text x="314.2" y="296.1" font-size="10.6" font-weight="bold" fill="#111" textLength="28.2" lengthAdjust="spacingAndGlyphs">121 K</text>
<path d="M312.20,324.89 L312.67,324.88 L313.14,324.51 L313.61,324.16 L314.08,324.06 L314.55,324.29 L315.02,324.28 L315.49,324.21 L315.96,323.76 L316.43,324.10 L316.90,324.41 L317.37,324.73 L317.84,324.65 L318.31,323.92 L318.78,324.20 L319.25,324.11 L319.72,324.59 L320.19,325.54 L320.66,325.32 L321.13,324.88 L321.60,324.43 L322.07,324.30 L322.54,324.33 L323.01,324.07 L323.48,324.19 L323.95,324.82 L324.42,325.06 L324.89,323.98 L325.36,324.33 L325.83,325.05 L326.30,323.81 L326.77,323.58 L327.24,324.26 L327.71,324.35 L328.18,323.72 L328.65,323.23 L329.12,323.65 L329.59,323.64 L330.06,323.10 L330.53,322.83 L331.00,322.33 L331.47,322.70 L331.94,323.55 L332.41,323.33 L332.88,322.37 L333.35,322.39 L333.82,323.02 L334.29,322.63 L334.76,323.17 L335.23,323.78 L335.70,323.73 L336.17,324.07 L336.64,323.91 L337.11,323.47 L337.58,323.81 L338.04,324.46 L338.51,324.66 L338.98,324.32 L339.45,323.94 L339.92,323.94 L340.39,324.11 L340.86,324.33 L341.33,323.63 L341.80,323.54 L342.27,323.63 L342.74,323.37 L343.21,323.64 L343.68,324.26 L344.15,323.78 L344.62,323.18 L345.09,323.12 L345.56,323.75 L346.03,324.52 L346.50,324.49 L346.97,324.16 L347.44,323.05 L347.91,322.48 L348.38,322.71 L348.85,322.71 L349.32,322.31 L349.79,322.27 L350.26,322.19 L350.73,321.81 L351.20,322.34 L351.67,322.15 L352.14,320.59 L352.61,320.06 L353.08,319.86 L353.55,319.09 L354.02,318.16 L354.49,316.33 L354.96,314.71 L355.43,313.54 L355.90,312.28 L356.37,309.65 L356.84,306.51 L357.31,303.91 L357.78,299.90 L358.25,296.01 L358.72,294.06 L359.19,291.78 L359.66,289.68 L360.13,289.93 L360.60,290.48 L361.07,292.14 L361.54,294.74 L362.01,297.07 L362.48,299.64 L362.95,301.57 L363.42,304.26 L363.89,307.39 L364.36,309.57 L364.83,311.22 L365.30,312.89 L365.77,314.30 L366.24,315.82 L366.71,317.71 L367.18,318.66 L367.65,319.08 L368.12,319.92 L368.59,320.43 L369.06,320.04 L369.53,320.72 L370.00,321.62 L370.47,321.28 L370.94,321.74 L371.41,322.64 L371.88,322.96 L372.35,322.72 L372.82,322.34 L373.29,322.63 L373.76,322.89 L374.23,322.53 L374.70,322.36 L375.17,323.29 L375.64,323.64 L376.11,323.22 L376.58,323.05 L377.05,323.21 L377.52,323.70 L377.99,323.82 L378.46,324.22 L378.93,324.12 L379.40,323.78 L379.87,323.66 L380.34,323.82 L380.81,324.14 L381.28,324.15 L381.75,324.37 L382.22,323.86 L382.69,323.68 L383.16,323.78 L383.63,324.00 L384.10,324.13 L384.57,324.32 L385.04,324.51 L385.51,324.14 L385.98,323.80 L386.45,323.58 L386.92,323.82 L387.39,323.61 L387.86,323.49 L388.33,323.58 L388.80,323.39 L389.27,323.58 L389.73,323.90 L390.20,323.77 L390.67,323.80 L391.14,323.77 L391.61,323.27 L392.08,323.10 L392.55,323.56 L393.02,324.22 L393.49,324.10 L393.96,323.71 L394.43,323.32 L394.90,323.38 L395.37,323.78 L395.84,323.40 L396.31,323.46 L396.78,323.71 L397.25,322.99 L397.72,322.43 L398.19,322.74 L398.66,323.10 L399.13,323.57 L399.60,323.44 L400.07,323.07 L400.54,323.13 L401.01,323.27 L401.48,323.30 L401.95,323.14 L402.42,322.98 L402.89,322.41 L403.36,322.33 L403.83,323.24 L404.30,323.60 L404.77,323.49 L405.24,323.35 L405.71,322.58 L406.18,322.11 L406.65,322.37 L407.12,322.29 L407.59,322.21 L408.06,322.61 L408.53,322.66 L409.00,322.31 L409.47,321.22 L409.94,321.16 L410.41,320.98 L410.88,319.88 L411.35,320.04 L411.82,320.16 L412.29,319.95 L412.76,319.55 L413.23,318.72 L413.70,318.24 L414.17,317.61 L414.64,316.67 L415.11,316.26 L415.58,315.86 L416.05,315.25 L416.52,314.45 L416.99,313.93 L417.46,313.00 L417.93,311.60 L418.40,310.95 L418.87,309.23 L419.34,308.10 L419.81,307.83 L420.28,306.16 L420.75,305.17 L421.22,304.15 L421.69,302.62 L422.16,301.25 L422.63,299.38 L423.10,297.54 L423.57,295.74 L424.04,294.21 L424.51,292.87 L424.98,291.71 L425.45,291.10 L425.92,289.92 L426.39,289.07 L426.86,288.94 L427.33,287.80 L427.80,287.07 L428.27,287.40 L428.74,287.54 L429.21,287.66 L429.68,288.86 L430.15,289.86 L430.62,290.66 L431.09,291.59 L431.56,292.55 L432.03,293.36 L432.50,294.27 L432.97,296.30 L433.44,297.84 L433.91,299.35 L434.38,300.73 L434.85,301.55 L435.32,302.84 L435.79,304.96 L436.26,306.44 L436.73,306.92 L437.20,307.91 L437.67,308.85 L438.14,310.45 L438.61,311.68 L439.08,312.44 L439.55,313.46 L440.02,313.97 L440.49,314.60 L440.96,315.65 L441.42,316.49 L441.89,317.30 L442.36,318.38 L442.83,318.35 L443.30,318.40 L443.77,319.52 L444.24,320.17 L444.71,320.01 L445.18,319.57 L445.65,319.54 L446.12,320.04 L446.59,321.18 L447.06,321.68 L447.53,321.16 L448.00,321.18 L448.47,321.36 L448.94,321.71 L449.41,321.41 L449.88,320.99 L450.35,321.69 L450.82,322.57 L451.29,321.98 L451.76,321.93 L452.23,322.28 L452.70,321.57 L453.17,322.32 L453.64,322.89 L454.11,322.76 L454.58,322.75 L455.05,322.59 L455.52,322.18 L455.99,322.14 L456.46,322.81 L456.93,322.68 L457.40,322.80 L457.87,323.31 L458.34,322.55 L458.81,322.73 L459.28,323.63 L459.75,323.38 L460.22,323.59 L460.69,324.30 L461.16,323.66 L461.63,323.26 L462.10,323.79 L462.57,323.69 L463.04,323.85 L463.51,324.09 L463.98,323.75 L464.45,322.66 L464.92,322.50 L465.39,323.04 L465.86,323.77 L466.33,324.04 L466.80,323.95" fill="none" stroke="#ba3434" stroke-width="1.25" stroke-linejoin="round"/>
<text x="314.2" y="321.1" font-size="10.6" font-weight="bold" fill="#111" textLength="28.2" lengthAdjust="spacingAndGlyphs">117 K</text>
<path d="M312.20,348.07 L312.67,348.16 L313.14,348.40 L313.61,348.35 L314.08,348.55 L314.55,349.01 L315.02,348.64 L315.49,348.59 L315.96,349.15 L316.43,348.81 L316.90,348.65 L317.37,348.47 L317.84,347.93 L318.31,347.93 L318.78,348.19 L319.25,348.26 L319.72,348.05 L320.19,348.64 L320.66,348.79 L321.13,348.50 L321.60,349.01 L322.07,348.71 L322.54,348.44 L323.01,348.25 L323.48,347.77 L323.95,348.70 L324.42,349.07 L324.89,347.70 L325.36,347.39 L325.83,347.54 L326.30,347.76 L326.77,348.65 L327.24,349.00 L327.71,348.25 L328.18,347.50 L328.65,347.85 L329.12,348.10 L329.59,347.63 L330.06,347.93 L330.53,347.96 L331.00,346.76 L331.47,345.85 L331.94,346.35 L332.41,346.48 L332.88,346.68 L333.35,347.63 L333.82,348.31 L334.29,347.90 L334.76,347.45 L335.23,347.14 L335.70,347.01 L336.17,347.77 L336.64,348.50 L337.11,348.11 L337.58,347.66 L338.04,348.19 L338.51,348.76 L338.98,348.40 L339.45,347.36 L339.92,347.82 L340.39,348.08 L340.86,347.74 L341.33,347.43 L341.80,347.48 L342.27,347.21 L342.74,347.28 L343.21,347.97 L343.68,348.00 L344.15,348.56 L344.62,348.61 L345.09,347.42 L345.56,347.01 L346.03,347.52 L346.50,347.41 L346.97,347.70 L347.44,347.80 L347.91,346.88 L348.38,346.44 L348.85,346.72 L349.32,346.48 L349.79,345.45 L350.26,345.66 L350.73,345.75 L351.20,345.79 L351.67,346.26 L352.14,345.09 L352.61,343.85 L353.08,343.23 L353.55,342.49 L354.02,341.49 L354.49,339.63 L354.96,337.29 L355.43,335.59 L355.90,334.32 L356.37,331.19 L356.84,327.55 L357.31,324.61 L357.78,321.55 L358.25,317.98 L358.72,315.36 L359.19,314.02 L359.66,313.71 L360.13,314.22 L360.60,314.84 L361.07,316.36 L361.54,318.24 L362.01,321.01 L362.48,323.27 L362.95,326.07 L363.42,329.38 L363.89,331.42 L364.36,333.92 L364.83,335.84 L365.30,337.03 L365.77,338.86 L366.24,339.79 L366.71,340.81 L367.18,342.28 L367.65,343.41 L368.12,344.70 L368.59,345.14 L369.06,345.16 L369.53,345.49 L370.00,345.45 L370.47,346.33 L370.94,347.16 L371.41,347.18 L371.88,346.56 L372.35,346.30 L372.82,347.02 L373.29,347.31 L373.76,346.96 L374.23,346.84 L374.70,347.14 L375.17,347.73 L375.64,347.50 L376.11,346.79 L376.58,347.04 L377.05,346.83 L377.52,347.11 L377.99,347.60 L378.46,347.35 L378.93,347.20 L379.40,347.54 L379.87,347.70 L380.34,347.81 L380.81,347.62 L381.28,347.19 L381.75,347.43 L382.22,347.15 L382.69,347.66 L383.16,348.35 L383.63,347.33 L384.10,347.40 L384.57,348.47 L385.04,347.90 L385.51,347.21 L385.98,348.04 L386.45,347.97 L386.92,347.91 L387.39,348.58 L387.86,348.30 L388.33,348.02 L388.80,348.31 L389.27,348.27 L389.73,348.23 L390.20,348.08 L390.67,347.76 L391.14,347.52 L391.61,347.65 L392.08,348.30 L392.55,348.55 L393.02,348.19 L393.49,347.26 L393.96,346.89 L394.43,347.56 L394.90,347.51 L395.37,347.65 L395.84,347.61 L396.31,347.33 L396.78,347.38 L397.25,347.03 L397.72,347.33 L398.19,347.39 L398.66,347.61 L399.13,347.70 L399.60,346.97 L400.07,345.60 L400.54,345.68 L401.01,346.91 L401.48,347.41 L401.95,347.05 L402.42,347.19 L402.89,347.73 L403.36,347.02 L403.83,347.08 L404.30,346.63 L404.77,345.82 L405.24,346.41 L405.71,346.84 L406.18,346.98 L406.65,347.14 L407.12,346.46 L407.59,345.68 L408.06,345.57 L408.53,345.52 L409.00,345.64 L409.47,345.42 L409.94,345.49 L410.41,345.37 L410.88,344.16 L411.35,343.45 L411.82,343.75 L412.29,343.92 L412.76,342.94 L413.23,341.83 L413.70,342.26 L414.17,342.45 L414.64,341.32 L415.11,340.16 L415.58,339.82 L416.05,339.25 L416.52,338.28 L416.99,336.85 L417.46,335.69 L417.93,335.49 L418.40,334.67 L418.87,333.17 L419.34,331.66 L419.81,331.10 L420.28,329.95 L420.75,328.68 L421.22,327.60 L421.69,326.17 L422.16,324.90 L422.63,323.26 L423.10,321.69 L423.57,319.87 L424.04,317.91 L424.51,316.82 L424.98,316.17 L425.45,314.69 L425.92,313.95 L426.39,313.96 L426.86,312.38 L427.33,311.05 L427.80,310.68 L428.27,310.87 L428.74,311.72 L429.21,312.15 L429.68,312.10 L430.15,312.89 L430.62,314.17 L431.09,315.38 L431.56,316.66 L432.03,317.18 L432.50,317.96 L432.97,319.96 L433.44,321.85 L433.91,323.07 L434.38,323.96 L434.85,325.56 L435.32,327.18 L435.79,328.84 L436.26,330.50 L436.73,330.95 L437.20,331.48 L437.67,333.15 L438.14,334.79 L438.61,335.21 L439.08,336.08 L439.55,337.43 L440.02,338.00 L440.49,338.57 L440.96,339.12 L441.42,339.62 L441.89,340.79 L442.36,341.67 L442.83,342.03 L443.30,342.91 L443.77,343.65 L444.24,343.31 L444.71,343.87 L445.18,344.19 L445.65,343.89 L446.12,344.52 L446.59,344.68 L447.06,344.71 L447.53,344.69 L448.00,345.15 L448.47,345.78 L448.94,345.87 L449.41,345.33 L449.88,345.08 L450.35,346.08 L450.82,346.59 L451.29,346.62 L451.76,346.59 L452.23,346.38 L452.70,345.73 L453.17,346.45 L453.64,346.91 L454.11,346.25 L454.58,346.86 L455.05,347.10 L455.52,347.08 L455.99,347.07 L456.46,346.63 L456.93,347.17 L457.40,347.12 L457.87,346.79 L458.34,346.76 L458.81,346.55 L459.28,346.66 L459.75,346.65 L460.22,346.72 L460.69,346.91 L461.16,347.55 L461.63,347.38 L462.10,346.91 L462.57,346.48 L463.04,347.37 L463.51,348.12 L463.98,347.17 L464.45,347.52 L464.92,347.95 L465.39,346.90 L465.86,346.39 L466.33,347.36 L466.80,347.38" fill="none" stroke="#3a963a" stroke-width="1.25" stroke-linejoin="round"/>
<text x="314.2" y="343.9" font-size="10.6" font-weight="bold" fill="#111" textLength="28.2" lengthAdjust="spacingAndGlyphs">115 K</text>
<text x="336.0" y="33.6" font-size="14.5" fill="#111">t<tspan font-size="8.6" dy="3.1">2g</tspan></text>
<text x="406.3" y="33.8" font-size="14.5" fill="#111">e<tspan font-size="8.6" dy="3.1">g</tspan></text>
<text x="1.6" y="155.7" font-size="13.5" font-weight="bold" fill="#000">c</text>
<defs><linearGradient id="bgc" x1="21.5" x2="248" y1="0" y2="0" gradientUnits="userSpaceOnUse"><stop offset="0" stop-color="#6e6e6e"/><stop offset="0.12" stop-color="#686868"/><stop offset="0.28" stop-color="#575757"/><stop offset="0.33" stop-color="#4a4a4a"/><stop offset="0.37" stop-color="#363636"/><stop offset="0.40" stop-color="#282828"/><stop offset="0.46" stop-color="#1d1d1d"/><stop offset="0.8" stop-color="#171717"/><stop offset="1" stop-color="#131313"/></linearGradient><radialGradient id="at"><stop offset="0" stop-color="#fff" stop-opacity="1"/><stop offset="0.25" stop-color="#fff" stop-opacity="0.8"/><stop offset="0.5" stop-color="#fff" stop-opacity="0.4"/><stop offset="0.75" stop-color="#fff" stop-opacity="0.12"/><stop offset="1" stop-color="#fff" stop-opacity="0"/></radialGradient><clipPath id="cc"><rect x="21.5" y="156.6" width="226.5" height="89.9"/></clipPath><filter id="grain" x="0" y="0" width="100%" height="100%"><feTurbulence type="fractalNoise" baseFrequency="0.55" numOctaves="2" seed="3" result="n"/><feColorMatrix in="n" type="matrix" values="0 0 0 0 1  0 0 0 0 1  0 0 0 0 1  0.9 0 0 0 -0.38"/></filter><filter id="grain2" x="0" y="0" width="100%" height="100%"><feTurbulence type="fractalNoise" baseFrequency="0.5" numOctaves="2" seed="9" result="n"/><feColorMatrix in="n" type="matrix" values="0 0 0 0 0  0 0 0 0 0  0 0 0 0 0  0.9 0 0 0 -0.38"/></filter></defs>
<rect x="21.5" y="156.6" width="226.5" height="89.9" fill="url(#bgc)"/>
<g clip-path="url(#cc)">
<ellipse cx="8.2" cy="145.4" rx="9" ry="8" fill="url(#at)" opacity="0.84"/>
<ellipse cx="17.6" cy="155.5" rx="7" ry="6.5" fill="url(#at)" opacity="0.28"/>
<ellipse cx="8.2" cy="165.5" rx="9" ry="8" fill="url(#at)" opacity="0.84"/>
<ellipse cx="17.6" cy="175.6" rx="7" ry="6.5" fill="url(#at)" opacity="0.28"/>
<ellipse cx="8.2" cy="185.6" rx="9" ry="8" fill="url(#at)" opacity="0.84"/>
<ellipse cx="17.6" cy="195.7" rx="7" ry="6.5" fill="url(#at)" opacity="0.28"/>
<ellipse cx="8.2" cy="205.7" rx="9" ry="8" fill="url(#at)" opacity="0.84"/>
<ellipse cx="17.6" cy="215.8" rx="7" ry="6.5" fill="url(#at)" opacity="0.28"/>
<ellipse cx="8.2" cy="225.8" rx="9" ry="8" fill="url(#at)" opacity="0.84"/>
<ellipse cx="17.6" cy="235.9" rx="7" ry="6.5" fill="url(#at)" opacity="0.28"/>
<ellipse cx="8.2" cy="245.9" rx="9" ry="8" fill="url(#at)" opacity="0.84"/>
<ellipse cx="17.6" cy="256.0" rx="7" ry="6.5" fill="url(#at)" opacity="0.28"/>
<ellipse cx="8.2" cy="266.0" rx="9" ry="8" fill="url(#at)" opacity="0.84"/>
<ellipse cx="17.6" cy="276.1" rx="7" ry="6.5" fill="url(#at)" opacity="0.28"/>
<ellipse cx="27.0" cy="145.4" rx="9" ry="8" fill="url(#at)" opacity="0.84"/>
<ellipse cx="36.4" cy="155.5" rx="7" ry="6.5" fill="url(#at)" opacity="0.28"/>
<ellipse cx="27.0" cy="165.5" rx="9" ry="8" fill="url(#at)" opacity="0.84"/>
<ellipse cx="36.4" cy="175.6" rx="7" ry="6.5" fill="url(#at)" opacity="0.28"/>
<ellipse cx="27.0" cy="185.6" rx="9" ry="8" fill="url(#at)" opacity="0.84"/>
<ellipse cx="36.4" cy="195.7" rx="7" ry="6.5" fill="url(#at)" opacity="0.28"/>
<ellipse cx="27.0" cy="205.7" rx="9" ry="8" fill="url(#at)" opacity="0.84"/>
<ellipse cx="36.4" cy="215.8" rx="7" ry="6.5" fill="url(#at)" opacity="0.28"/>
<ellipse cx="27.0" cy="225.8" rx="9" ry="8" fill="url(#at)" opacity="0.84"/>
<ellipse cx="36.4" cy="235.9" rx="7" ry="6.5" fill="url(#at)" opacity="0.28"/>
<ellipse cx="27.0" cy="245.9" rx="9" ry="8" fill="url(#at)" opacity="0.84"/>
<ellipse cx="36.4" cy="256.0" rx="7" ry="6.5" fill="url(#at)" opacity="0.28"/>
<ellipse cx="27.0" cy="266.0" rx="9" ry="8" fill="url(#at)" opacity="0.84"/>
<ellipse cx="36.4" cy="276.1" rx="7" ry="6.5" fill="url(#at)" opacity="0.28"/>
<ellipse cx="45.8" cy="145.4" rx="9" ry="8" fill="url(#at)" opacity="0.84"/>
<ellipse cx="55.1" cy="155.5" rx="7" ry="6.5" fill="url(#at)" opacity="0.28"/>
<ellipse cx="45.8" cy="165.5" rx="9" ry="8" fill="url(#at)" opacity="0.84"/>
<ellipse cx="55.1" cy="175.6" rx="7" ry="6.5" fill="url(#at)" opacity="0.28"/>
<ellipse cx="45.8" cy="185.6" rx="9" ry="8" fill="url(#at)" opacity="0.84"/>
<ellipse cx="55.1" cy="195.7" rx="7" ry="6.5" fill="url(#at)" opacity="0.28"/>
<ellipse cx="45.8" cy="205.7" rx="9" ry="8" fill="url(#at)" opacity="0.84"/>
<ellipse cx="55.1" cy="215.8" rx="7" ry="6.5" fill="url(#at)" opacity="0.28"/>
<ellipse cx="45.8" cy="225.8" rx="9" ry="8" fill="url(#at)" opacity="0.84"/>
<ellipse cx="55.1" cy="235.9" rx="7" ry="6.5" fill="url(#at)" opacity="0.28"/>
<ellipse cx="45.8" cy="245.9" rx="9" ry="8" fill="url(#at)" opacity="0.84"/>
<ellipse cx="55.1" cy="256.0" rx="7" ry="6.5" fill="url(#at)" opacity="0.28"/>
<ellipse cx="45.8" cy="266.0" rx="9" ry="8" fill="url(#at)" opacity="0.84"/>
<ellipse cx="55.1" cy="276.1" rx="7" ry="6.5" fill="url(#at)" opacity="0.28"/>
<ellipse cx="64.5" cy="145.4" rx="9" ry="8" fill="url(#at)" opacity="0.84"/>
<ellipse cx="73.9" cy="155.5" rx="7" ry="6.5" fill="url(#at)" opacity="0.28"/>
<ellipse cx="64.5" cy="165.5" rx="9" ry="8" fill="url(#at)" opacity="0.84"/>
<ellipse cx="73.9" cy="175.6" rx="7" ry="6.5" fill="url(#at)" opacity="0.28"/>
<ellipse cx="64.5" cy="185.6" rx="9" ry="8" fill="url(#at)" opacity="0.84"/>
<ellipse cx="73.9" cy="195.7" rx="7" ry="6.5" fill="url(#at)" opacity="0.28"/>
<ellipse cx="64.5" cy="205.7" rx="9" ry="8" fill="url(#at)" opacity="0.84"/>
<ellipse cx="73.9" cy="215.8" rx="7" ry="6.5" fill="url(#at)" opacity="0.28"/>
<ellipse cx="64.5" cy="225.8" rx="9" ry="8" fill="url(#at)" opacity="0.84"/>
<ellipse cx="73.9" cy="235.9" rx="7" ry="6.5" fill="url(#at)" opacity="0.28"/>
<ellipse cx="64.5" cy="245.9" rx="9" ry="8" fill="url(#at)" opacity="0.84"/>
<ellipse cx="73.9" cy="256.0" rx="7" ry="6.5" fill="url(#at)" opacity="0.28"/>
<ellipse cx="64.5" cy="266.0" rx="9" ry="8" fill="url(#at)" opacity="0.84"/>
<ellipse cx="73.9" cy="276.1" rx="7" ry="6.5" fill="url(#at)" opacity="0.28"/>
<ellipse cx="83.2" cy="145.4" rx="9" ry="8" fill="url(#at)" opacity="0.66"/>
<ellipse cx="92.7" cy="155.5" rx="7" ry="6.5" fill="url(#at)" opacity="0.28"/>
<ellipse cx="83.2" cy="165.5" rx="9" ry="8" fill="url(#at)" opacity="0.66"/>
<ellipse cx="92.7" cy="175.6" rx="7" ry="6.5" fill="url(#at)" opacity="0.28"/>
<ellipse cx="83.2" cy="185.6" rx="9" ry="8" fill="url(#at)" opacity="0.66"/>
<ellipse cx="92.7" cy="195.7" rx="7" ry="6.5" fill="url(#at)" opacity="0.28"/>
<ellipse cx="83.2" cy="205.7" rx="9" ry="8" fill="url(#at)" opacity="0.66"/>
<ellipse cx="92.7" cy="215.8" rx="7" ry="6.5" fill="url(#at)" opacity="0.28"/>
<ellipse cx="83.2" cy="225.8" rx="9" ry="8" fill="url(#at)" opacity="0.66"/>
<ellipse cx="92.7" cy="235.9" rx="7" ry="6.5" fill="url(#at)" opacity="0.28"/>
<ellipse cx="83.2" cy="245.9" rx="9" ry="8" fill="url(#at)" opacity="0.66"/>
<ellipse cx="92.7" cy="256.0" rx="7" ry="6.5" fill="url(#at)" opacity="0.28"/>
<ellipse cx="83.2" cy="266.0" rx="9" ry="8" fill="url(#at)" opacity="0.66"/>
<ellipse cx="92.7" cy="276.1" rx="7" ry="6.5" fill="url(#at)" opacity="0.28"/>
<ellipse cx="103.5" cy="145.4" rx="7.5" ry="7" fill="url(#at)" opacity="0.47"/>
<ellipse cx="113.5" cy="155.7" rx="6.8" ry="6.3" fill="url(#at)" opacity="0.27"/>
<ellipse cx="103.5" cy="165.5" rx="7.5" ry="7" fill="url(#at)" opacity="0.47"/>
<ellipse cx="113.5" cy="175.8" rx="6.8" ry="6.3" fill="url(#at)" opacity="0.27"/>
<ellipse cx="103.5" cy="185.6" rx="7.5" ry="7" fill="url(#at)" opacity="0.47"/>
<ellipse cx="113.5" cy="195.9" rx="6.8" ry="6.3" fill="url(#at)" opacity="0.27"/>
<ellipse cx="103.5" cy="205.7" rx="7.5" ry="7" fill="url(#at)" opacity="0.47"/>
<ellipse cx="113.5" cy="216.0" rx="6.8" ry="6.3" fill="url(#at)" opacity="0.27"/>
<ellipse cx="103.5" cy="225.8" rx="7.5" ry="7" fill="url(#at)" opacity="0.47"/>
<ellipse cx="113.5" cy="236.1" rx="6.8" ry="6.3" fill="url(#at)" opacity="0.27"/>
<ellipse cx="103.5" cy="245.9" rx="7.5" ry="7" fill="url(#at)" opacity="0.47"/>
<ellipse cx="113.5" cy="256.2" rx="6.8" ry="6.3" fill="url(#at)" opacity="0.27"/>
<ellipse cx="103.5" cy="266.0" rx="7.5" ry="7" fill="url(#at)" opacity="0.47"/>
<ellipse cx="113.5" cy="276.3" rx="6.8" ry="6.3" fill="url(#at)" opacity="0.27"/>
<ellipse cx="123.3" cy="145.4" rx="7.5" ry="7" fill="url(#at)" opacity="0.47"/>
<ellipse cx="133.3" cy="155.7" rx="6.8" ry="6.3" fill="url(#at)" opacity="0.27"/>
<ellipse cx="123.3" cy="165.5" rx="7.5" ry="7" fill="url(#at)" opacity="0.47"/>
<ellipse cx="133.3" cy="175.8" rx="6.8" ry="6.3" fill="url(#at)" opacity="0.27"/>
<ellipse cx="123.3" cy="185.6" rx="7.5" ry="7" fill="url(#at)" opacity="0.47"/>
<ellipse cx="133.3" cy="195.9" rx="6.8" ry="6.3" fill="url(#at)" opacity="0.27"/>
<ellipse cx="123.3" cy="205.7" rx="7.5" ry="7" fill="url(#at)" opacity="0.47"/>
<ellipse cx="133.3" cy="216.0" rx="6.8" ry="6.3" fill="url(#at)" opacity="0.27"/>
<ellipse cx="123.3" cy="225.8" rx="7.5" ry="7" fill="url(#at)" opacity="0.47"/>
<ellipse cx="133.3" cy="236.1" rx="6.8" ry="6.3" fill="url(#at)" opacity="0.27"/>
<ellipse cx="123.3" cy="245.9" rx="7.5" ry="7" fill="url(#at)" opacity="0.47"/>
<ellipse cx="133.3" cy="256.2" rx="6.8" ry="6.3" fill="url(#at)" opacity="0.27"/>
<ellipse cx="123.3" cy="266.0" rx="7.5" ry="7" fill="url(#at)" opacity="0.47"/>
<ellipse cx="133.3" cy="276.3" rx="6.8" ry="6.3" fill="url(#at)" opacity="0.27"/>
<ellipse cx="143.2" cy="145.4" rx="7.5" ry="7" fill="url(#at)" opacity="0.47"/>
<ellipse cx="153.2" cy="155.7" rx="6.8" ry="6.3" fill="url(#at)" opacity="0.27"/>
<ellipse cx="143.2" cy="165.5" rx="7.5" ry="7" fill="url(#at)" opacity="0.47"/>
<ellipse cx="153.2" cy="175.8" rx="6.8" ry="6.3" fill="url(#at)" opacity="0.27"/>
<ellipse cx="143.2" cy="185.6" rx="7.5" ry="7" fill="url(#at)" opacity="0.47"/>
<ellipse cx="153.2" cy="195.9" rx="6.8" ry="6.3" fill="url(#at)" opacity="0.27"/>
<ellipse cx="143.2" cy="205.7" rx="7.5" ry="7" fill="url(#at)" opacity="0.47"/>
<ellipse cx="153.2" cy="216.0" rx="6.8" ry="6.3" fill="url(#at)" opacity="0.27"/>
<ellipse cx="143.2" cy="225.8" rx="7.5" ry="7" fill="url(#at)" opacity="0.47"/>
<ellipse cx="153.2" cy="236.1" rx="6.8" ry="6.3" fill="url(#at)" opacity="0.27"/>
<ellipse cx="143.2" cy="245.9" rx="7.5" ry="7" fill="url(#at)" opacity="0.47"/>
<ellipse cx="153.2" cy="256.2" rx="6.8" ry="6.3" fill="url(#at)" opacity="0.27"/>
<ellipse cx="143.2" cy="266.0" rx="7.5" ry="7" fill="url(#at)" opacity="0.47"/>
<ellipse cx="153.2" cy="276.3" rx="6.8" ry="6.3" fill="url(#at)" opacity="0.27"/>
<ellipse cx="163.1" cy="145.4" rx="7.5" ry="7" fill="url(#at)" opacity="0.47"/>
<ellipse cx="173.1" cy="155.7" rx="6.8" ry="6.3" fill="url(#at)" opacity="0.27"/>
<ellipse cx="163.1" cy="165.5" rx="7.5" ry="7" fill="url(#at)" opacity="0.47"/>
<ellipse cx="173.1" cy="175.8" rx="6.8" ry="6.3" fill="url(#at)" opacity="0.27"/>
<ellipse cx="163.1" cy="185.6" rx="7.5" ry="7" fill="url(#at)" opacity="0.47"/>
<ellipse cx="173.1" cy="195.9" rx="6.8" ry="6.3" fill="url(#at)" opacity="0.27"/>
<ellipse cx="163.1" cy="205.7" rx="7.5" ry="7" fill="url(#at)" opacity="0.47"/>
<ellipse cx="173.1" cy="216.0" rx="6.8" ry="6.3" fill="url(#at)" opacity="0.27"/>
<ellipse cx="163.1" cy="225.8" rx="7.5" ry="7" fill="url(#at)" opacity="0.47"/>
<ellipse cx="173.1" cy="236.1" rx="6.8" ry="6.3" fill="url(#at)" opacity="0.27"/>
<ellipse cx="163.1" cy="245.9" rx="7.5" ry="7" fill="url(#at)" opacity="0.47"/>
<ellipse cx="173.1" cy="256.2" rx="6.8" ry="6.3" fill="url(#at)" opacity="0.27"/>
<ellipse cx="163.1" cy="266.0" rx="7.5" ry="7" fill="url(#at)" opacity="0.47"/>
<ellipse cx="173.1" cy="276.3" rx="6.8" ry="6.3" fill="url(#at)" opacity="0.27"/>
<ellipse cx="182.9" cy="145.4" rx="7.5" ry="7" fill="url(#at)" opacity="0.47"/>
<ellipse cx="192.9" cy="155.7" rx="6.8" ry="6.3" fill="url(#at)" opacity="0.27"/>
<ellipse cx="182.9" cy="165.5" rx="7.5" ry="7" fill="url(#at)" opacity="0.47"/>
<ellipse cx="192.9" cy="175.8" rx="6.8" ry="6.3" fill="url(#at)" opacity="0.27"/>
<ellipse cx="182.9" cy="185.6" rx="7.5" ry="7" fill="url(#at)" opacity="0.47"/>
<ellipse cx="192.9" cy="195.9" rx="6.8" ry="6.3" fill="url(#at)" opacity="0.27"/>
<ellipse cx="182.9" cy="205.7" rx="7.5" ry="7" fill="url(#at)" opacity="0.47"/>
<ellipse cx="192.9" cy="216.0" rx="6.8" ry="6.3" fill="url(#at)" opacity="0.27"/>
<ellipse cx="182.9" cy="225.8" rx="7.5" ry="7" fill="url(#at)" opacity="0.47"/>
<ellipse cx="192.9" cy="236.1" rx="6.8" ry="6.3" fill="url(#at)" opacity="0.27"/>
<ellipse cx="182.9" cy="245.9" rx="7.5" ry="7" fill="url(#at)" opacity="0.47"/>
<ellipse cx="192.9" cy="256.2" rx="6.8" ry="6.3" fill="url(#at)" opacity="0.27"/>
<ellipse cx="182.9" cy="266.0" rx="7.5" ry="7" fill="url(#at)" opacity="0.47"/>
<ellipse cx="192.9" cy="276.3" rx="6.8" ry="6.3" fill="url(#at)" opacity="0.27"/>
<ellipse cx="202.8" cy="145.4" rx="7.5" ry="7" fill="url(#at)" opacity="0.47"/>
<ellipse cx="212.8" cy="155.7" rx="6.8" ry="6.3" fill="url(#at)" opacity="0.27"/>
<ellipse cx="202.8" cy="165.5" rx="7.5" ry="7" fill="url(#at)" opacity="0.47"/>
<ellipse cx="212.8" cy="175.8" rx="6.8" ry="6.3" fill="url(#at)" opacity="0.27"/>
<ellipse cx="202.8" cy="185.6" rx="7.5" ry="7" fill="url(#at)" opacity="0.47"/>
<ellipse cx="212.8" cy="195.9" rx="6.8" ry="6.3" fill="url(#at)" opacity="0.27"/>
<ellipse cx="202.8" cy="205.7" rx="7.5" ry="7" fill="url(#at)" opacity="0.47"/>
<ellipse cx="212.8" cy="216.0" rx="6.8" ry="6.3" fill="url(#at)" opacity="0.27"/>
<ellipse cx="202.8" cy="225.8" rx="7.5" ry="7" fill="url(#at)" opacity="0.47"/>
<ellipse cx="212.8" cy="236.1" rx="6.8" ry="6.3" fill="url(#at)" opacity="0.27"/>
<ellipse cx="202.8" cy="245.9" rx="7.5" ry="7" fill="url(#at)" opacity="0.47"/>
<ellipse cx="212.8" cy="256.2" rx="6.8" ry="6.3" fill="url(#at)" opacity="0.27"/>
<ellipse cx="202.8" cy="266.0" rx="7.5" ry="7" fill="url(#at)" opacity="0.47"/>
<ellipse cx="212.8" cy="276.3" rx="6.8" ry="6.3" fill="url(#at)" opacity="0.27"/>
<ellipse cx="222.6" cy="145.4" rx="7.5" ry="7" fill="url(#at)" opacity="0.47"/>
<ellipse cx="232.6" cy="155.7" rx="6.8" ry="6.3" fill="url(#at)" opacity="0.27"/>
<ellipse cx="222.6" cy="165.5" rx="7.5" ry="7" fill="url(#at)" opacity="0.47"/>
<ellipse cx="232.6" cy="175.8" rx="6.8" ry="6.3" fill="url(#at)" opacity="0.27"/>
<ellipse cx="222.6" cy="185.6" rx="7.5" ry="7" fill="url(#at)" opacity="0.47"/>
<ellipse cx="232.6" cy="195.9" rx="6.8" ry="6.3" fill="url(#at)" opacity="0.27"/>
<ellipse cx="222.6" cy="205.7" rx="7.5" ry="7" fill="url(#at)" opacity="0.47"/>
<ellipse cx="232.6" cy="216.0" rx="6.8" ry="6.3" fill="url(#at)" opacity="0.27"/>
<ellipse cx="222.6" cy="225.8" rx="7.5" ry="7" fill="url(#at)" opacity="0.47"/>
<ellipse cx="232.6" cy="236.1" rx="6.8" ry="6.3" fill="url(#at)" opacity="0.27"/>
<ellipse cx="222.6" cy="245.9" rx="7.5" ry="7" fill="url(#at)" opacity="0.47"/>
<ellipse cx="232.6" cy="256.2" rx="6.8" ry="6.3" fill="url(#at)" opacity="0.27"/>
<ellipse cx="222.6" cy="266.0" rx="7.5" ry="7" fill="url(#at)" opacity="0.47"/>
<ellipse cx="232.6" cy="276.3" rx="6.8" ry="6.3" fill="url(#at)" opacity="0.27"/>
<ellipse cx="242.5" cy="145.4" rx="7.5" ry="7" fill="url(#at)" opacity="0.47"/>
<ellipse cx="252.5" cy="155.7" rx="6.8" ry="6.3" fill="url(#at)" opacity="0.27"/>
<ellipse cx="242.5" cy="165.5" rx="7.5" ry="7" fill="url(#at)" opacity="0.47"/>
<ellipse cx="252.5" cy="175.8" rx="6.8" ry="6.3" fill="url(#at)" opacity="0.27"/>
<ellipse cx="242.5" cy="185.6" rx="7.5" ry="7" fill="url(#at)" opacity="0.47"/>
<ellipse cx="252.5" cy="195.9" rx="6.8" ry="6.3" fill="url(#at)" opacity="0.27"/>
<ellipse cx="242.5" cy="205.7" rx="7.5" ry="7" fill="url(#at)" opacity="0.47"/>
<ellipse cx="252.5" cy="216.0" rx="6.8" ry="6.3" fill="url(#at)" opacity="0.27"/>
<ellipse cx="242.5" cy="225.8" rx="7.5" ry="7" fill="url(#at)" opacity="0.47"/>
<ellipse cx="252.5" cy="236.1" rx="6.8" ry="6.3" fill="url(#at)" opacity="0.27"/>
<ellipse cx="242.5" cy="245.9" rx="7.5" ry="7" fill="url(#at)" opacity="0.47"/>
<ellipse cx="252.5" cy="256.2" rx="6.8" ry="6.3" fill="url(#at)" opacity="0.27"/>
<ellipse cx="242.5" cy="266.0" rx="7.5" ry="7" fill="url(#at)" opacity="0.47"/>
<ellipse cx="252.5" cy="276.3" rx="6.8" ry="6.3" fill="url(#at)" opacity="0.27"/>
<rect x="21.5" y="156.6" width="226.5" height="89.9" filter="url(#grain)" opacity="0.5"/>
<rect x="21.5" y="156.6" width="226.5" height="89.9" filter="url(#grain2)" opacity="0.6"/>
</g>
<text x="37.6" y="212.5" font-size="12.4" font-weight="bold" fill="#e6ea3a" textLength="26.8" lengthAdjust="spacingAndGlyphs">NNO</text>
<text x="164.6" y="212.2" font-size="12" font-weight="bold" fill="#e6ea3a" textLength="25.0" lengthAdjust="spacingAndGlyphs">STO</text>
<text x="54.3" y="229.8" font-size="10.2" text-anchor="middle" font-weight="bold" fill="#e6ea3a">1</text>
<text x="74.5" y="229.8" font-size="10.2" text-anchor="middle" font-weight="bold" fill="#e6ea3a">0</text>
<text x="94.2" y="229.8" font-size="10.2" text-anchor="middle" font-weight="bold" fill="#e6ea3a">-1</text>
<text x="113.3" y="172.4" font-size="12" font-weight="bold" fill="#f8f8f8" textLength="42.5" lengthAdjust="spacingAndGlyphs">HAADF</text>
<text x="222.9" y="172.6" font-size="12" font-weight="bold" fill="#f8f8f8" textLength="15.4" lengthAdjust="spacingAndGlyphs">RT</text>
<text x="203.3" y="233.0" font-size="12" fill="#f0f0f0" textLength="26.7" lengthAdjust="spacingAndGlyphs">1 nm</text>
<rect x="188.7" y="237.6" width="54.3" height="2.6" fill="#f4f4f4"/>
<line x1="43.00" y1="236.40" x2="104.80" y2="236.40" stroke="#e0e0e0" stroke-width="0.8"/>
<path d="M46.5,233.8 L43.0,236.4 L46.5,239.0" fill="none" stroke="#e0e0e0" stroke-width="0.8"/>
<path d="M60.5,233.8 L64.0,236.4 L60.5,239.0" fill="none" stroke="#e0e0e0" stroke-width="0.8"/>
<path d="M67.5,233.8 L64.0,236.4 L67.5,239.0" fill="none" stroke="#e0e0e0" stroke-width="0.8"/>
<path d="M80.3,233.8 L83.8,236.4 L80.3,239.0" fill="none" stroke="#e0e0e0" stroke-width="0.8"/>
<path d="M87.3,233.8 L83.8,236.4 L87.3,239.0" fill="none" stroke="#e0e0e0" stroke-width="0.8"/>
<path d="M101.3,233.8 L104.8,236.4 L101.3,239.0" fill="none" stroke="#e0e0e0" stroke-width="0.8"/>
<text x="1.6" y="276.0" font-size="13.5" font-weight="bold" fill="#000">d</text>
<rect x="25.4" y="281.4" width="219.2" height="78.80000000000001" fill="none" stroke="#7a7a7a" stroke-width="1"/>
<line x1="35.10" y1="360.20" x2="35.10" y2="362.70" stroke="#555" stroke-width="0.9"/>
<text x="35.1" y="369.9" font-size="7.6" text-anchor="middle" fill="#333">2</text>
<line x1="55.10" y1="360.20" x2="55.10" y2="362.70" stroke="#555" stroke-width="0.9"/>
<text x="55.1" y="369.9" font-size="7.6" text-anchor="middle" fill="#333">1</text>
<line x1="75.10" y1="360.20" x2="75.10" y2="362.70" stroke="#555" stroke-width="0.9"/>
<text x="75.1" y="369.9" font-size="7.6" text-anchor="middle" fill="#333">0</text>
<line x1="95.10" y1="360.20" x2="95.10" y2="362.70" stroke="#555" stroke-width="0.9"/>
<text x="93.5" y="369.9" font-size="7.6" text-anchor="middle" fill="#333">−1</text>
<line x1="115.10" y1="360.20" x2="115.10" y2="362.70" stroke="#555" stroke-width="0.9"/>
<text x="113.5" y="369.9" font-size="7.6" text-anchor="middle" fill="#333">−2</text>
<line x1="135.10" y1="360.20" x2="135.10" y2="362.70" stroke="#555" stroke-width="0.9"/>
<text x="133.5" y="369.9" font-size="7.6" text-anchor="middle" fill="#333">−3</text>
<line x1="155.10" y1="360.20" x2="155.10" y2="362.70" stroke="#555" stroke-width="0.9"/>
<text x="153.5" y="369.9" font-size="7.6" text-anchor="middle" fill="#333">−4</text>
<line x1="175.10" y1="360.20" x2="175.10" y2="362.70" stroke="#555" stroke-width="0.9"/>
<text x="173.5" y="369.9" font-size="7.6" text-anchor="middle" fill="#333">−5</text>
<line x1="195.10" y1="360.20" x2="195.10" y2="362.70" stroke="#555" stroke-width="0.9"/>
<text x="193.5" y="369.9" font-size="7.6" text-anchor="middle" fill="#333">−6</text>
<line x1="215.10" y1="360.20" x2="215.10" y2="362.70" stroke="#555" stroke-width="0.9"/>
<text x="213.5" y="369.9" font-size="7.6" text-anchor="middle" fill="#333">−7</text>
<line x1="235.10" y1="360.20" x2="235.10" y2="362.70" stroke="#555" stroke-width="0.9"/>
<text x="233.5" y="369.9" font-size="7.6" text-anchor="middle" fill="#333">−8</text>
<line x1="22.90" y1="360.00" x2="25.40" y2="360.00" stroke="#555" stroke-width="0.9"/>
<text x="21.6" y="362.7" font-size="7.6" text-anchor="end" fill="#333">2.4</text>
<line x1="22.90" y1="323.70" x2="25.40" y2="323.70" stroke="#555" stroke-width="0.9"/>
<text x="21.6" y="326.4" font-size="7.6" text-anchor="end" fill="#333">2.5</text>
<line x1="22.90" y1="287.40" x2="25.40" y2="287.40" stroke="#555" stroke-width="0.9"/>
<text x="21.6" y="290.1" font-size="7.6" text-anchor="end" fill="#333">2.6</text>
<text x="135.2" y="379.4" font-size="7.6" text-anchor="middle" fill="#333" textLength="47.7" lengthAdjust="spacingAndGlyphs">Unit cell (no.)</text>
<text transform="translate(8.8,322.5) rotate(-90)" font-size="7.6" text-anchor="middle" fill="#333" textLength="43.7" lengthAdjust="spacingAndGlyphs">t2g-eg (eV)</text>
<polyline points="55.1,346.6 75.1,331.3 95.1,322.6 115.1,328.8 135.1,331.7 155.1,338.2 175.1,332.4 195.1,332.4 215.1,332.4 235.1,332.4" fill="none" stroke="#e04848" stroke-width="1.1"/>
<line x1="55.10" y1="337.47" x2="55.10" y2="355.67" stroke="#e04848" stroke-width="1.1" stroke-opacity="0.85"/>
<circle cx="55.1" cy="346.6" r="2.4" fill="#dd2a2a"/>
<line x1="75.10" y1="322.22" x2="75.10" y2="340.42" stroke="#e04848" stroke-width="1.1" stroke-opacity="0.85"/>
<circle cx="75.1" cy="331.3" r="2.4" fill="#dd2a2a"/>
<line x1="95.10" y1="313.51" x2="95.10" y2="331.71" stroke="#e04848" stroke-width="1.1" stroke-opacity="0.85"/>
<circle cx="95.1" cy="322.6" r="2.4" fill="#dd2a2a"/>
<line x1="115.10" y1="319.68" x2="115.10" y2="337.88" stroke="#e04848" stroke-width="1.1" stroke-opacity="0.85"/>
<circle cx="115.1" cy="328.8" r="2.4" fill="#dd2a2a"/>
<line x1="135.10" y1="322.59" x2="135.10" y2="340.79" stroke="#e04848" stroke-width="1.1" stroke-opacity="0.85"/>
<circle cx="135.1" cy="331.7" r="2.4" fill="#dd2a2a"/>
<line x1="155.10" y1="329.12" x2="155.10" y2="347.32" stroke="#e04848" stroke-width="1.1" stroke-opacity="0.85"/>
<circle cx="155.1" cy="338.2" r="2.4" fill="#dd2a2a"/>
<line x1="175.10" y1="323.31" x2="175.10" y2="341.51" stroke="#e04848" stroke-width="1.1" stroke-opacity="0.85"/>
<circle cx="175.1" cy="332.4" r="2.4" fill="#dd2a2a"/>
<line x1="195.10" y1="323.31" x2="195.10" y2="341.51" stroke="#e04848" stroke-width="1.1" stroke-opacity="0.85"/>
<circle cx="195.1" cy="332.4" r="2.4" fill="#dd2a2a"/>
<line x1="215.10" y1="323.31" x2="215.10" y2="341.51" stroke="#e04848" stroke-width="1.1" stroke-opacity="0.85"/>
<circle cx="215.1" cy="332.4" r="2.4" fill="#dd2a2a"/>
<line x1="235.10" y1="323.31" x2="235.10" y2="341.51" stroke="#e04848" stroke-width="1.1" stroke-opacity="0.85"/>
<circle cx="235.1" cy="332.4" r="2.4" fill="#dd2a2a"/>
<polyline points="55.1,332.0 75.1,326.6 95.1,293.9 115.1,297.6 135.1,307.0 155.1,312.4 175.1,312.4 195.1,312.4 215.1,312.4 235.1,312.4" fill="none" stroke="#4848e0" stroke-width="1.1"/>
<line x1="55.10" y1="322.95" x2="55.10" y2="341.15" stroke="#4848e0" stroke-width="1.1" stroke-opacity="0.85"/>
<circle cx="55.1" cy="332.0" r="2.4" fill="#1a1ad8"/>
<line x1="75.10" y1="317.50" x2="75.10" y2="335.70" stroke="#4848e0" stroke-width="1.1" stroke-opacity="0.85"/>
<circle cx="75.1" cy="326.6" r="2.4" fill="#1a1ad8"/>
<line x1="95.10" y1="284.83" x2="95.10" y2="303.03" stroke="#4848e0" stroke-width="1.1" stroke-opacity="0.85"/>
<circle cx="95.1" cy="293.9" r="2.4" fill="#1a1ad8"/>
<line x1="115.10" y1="288.46" x2="115.10" y2="306.66" stroke="#4848e0" stroke-width="1.1" stroke-opacity="0.85"/>
<circle cx="115.1" cy="297.6" r="2.4" fill="#1a1ad8"/>
<line x1="135.10" y1="297.90" x2="135.10" y2="316.10" stroke="#4848e0" stroke-width="1.1" stroke-opacity="0.85"/>
<circle cx="135.1" cy="307.0" r="2.4" fill="#1a1ad8"/>
<line x1="155.10" y1="303.35" x2="155.10" y2="321.55" stroke="#4848e0" stroke-width="1.1" stroke-opacity="0.85"/>
<circle cx="155.1" cy="312.4" r="2.4" fill="#1a1ad8"/>
<line x1="175.10" y1="303.35" x2="175.10" y2="321.55" stroke="#4848e0" stroke-width="1.1" stroke-opacity="0.85"/>
<circle cx="175.1" cy="312.4" r="2.4" fill="#1a1ad8"/>
<line x1="195.10" y1="303.35" x2="195.10" y2="321.55" stroke="#4848e0" stroke-width="1.1" stroke-opacity="0.85"/>
<circle cx="195.1" cy="312.4" r="2.4" fill="#1a1ad8"/>
<line x1="215.10" y1="303.35" x2="215.10" y2="321.55" stroke="#4848e0" stroke-width="1.1" stroke-opacity="0.85"/>
<circle cx="215.1" cy="312.4" r="2.4" fill="#1a1ad8"/>
<line x1="235.10" y1="303.35" x2="235.10" y2="321.55" stroke="#4848e0" stroke-width="1.1" stroke-opacity="0.85"/>
<circle cx="235.1" cy="312.4" r="2.4" fill="#1a1ad8"/>
<line x1="31.40" y1="290.30" x2="46.30" y2="290.30" stroke="#e04848" stroke-width="1.1"/>
<circle cx="38.6" cy="290.3" r="2.4" fill="#dd2a2a"/>
<line x1="31.40" y1="300.90" x2="46.30" y2="300.90" stroke="#4848e0" stroke-width="1.1"/>
<circle cx="38.6" cy="300.9" r="2.4" fill="#1a1ad8"/>
<text x="51.6" y="293.2" font-size="7.6" fill="#333">RT</text>
<text x="51.6" y="303.8" font-size="7.6" fill="#333">LT</text>
<text x="489.9" y="13.6" font-size="15" font-weight="bold" fill="#000">e</text>
<text x="539.6" y="11.3" font-size="10.7" font-weight="bold" fill="#111">Ti-L<tspan font-size="7" dy="2.4">3</tspan><tspan dy="-2.4"> uc-resolved at LT</tspan></text>
<rect x="525.4" y="17.3" width="152.0" height="345.3" fill="none" stroke="#7c7c7c" stroke-width="1"/>
<line x1="522.40" y1="359.90" x2="525.40" y2="359.90" stroke="#666" stroke-width="1"/>
<text x="522.6" y="363.3" font-size="9.6" text-anchor="end" fill="#222" textLength="15.6" lengthAdjust="spacingAndGlyphs">1.0</text>
<line x1="522.40" y1="338.83" x2="525.40" y2="338.83" stroke="#666" stroke-width="1"/>
<text x="522.6" y="342.2" font-size="9.6" text-anchor="end" fill="#222" textLength="15.6" lengthAdjust="spacingAndGlyphs">1.5</text>
<line x1="522.40" y1="317.76" x2="525.40" y2="317.76" stroke="#666" stroke-width="1"/>
<text x="522.6" y="321.2" font-size="9.6" text-anchor="end" fill="#222" textLength="15.6" lengthAdjust="spacingAndGlyphs">2.0</text>
<line x1="522.40" y1="296.69" x2="525.40" y2="296.69" stroke="#666" stroke-width="1"/>
<text x="522.6" y="300.1" font-size="9.6" text-anchor="end" fill="#222" textLength="15.6" lengthAdjust="spacingAndGlyphs">2.5</text>
<line x1="522.40" y1="275.62" x2="525.40" y2="275.62" stroke="#666" stroke-width="1"/>
<text x="522.6" y="279.0" font-size="9.6" text-anchor="end" fill="#222" textLength="15.6" lengthAdjust="spacingAndGlyphs">3.0</text>
<line x1="522.40" y1="254.55" x2="525.40" y2="254.55" stroke="#666" stroke-width="1"/>
<text x="522.6" y="257.9" font-size="9.6" text-anchor="end" fill="#222" textLength="15.6" lengthAdjust="spacingAndGlyphs">3.5</text>
<line x1="522.40" y1="233.48" x2="525.40" y2="233.48" stroke="#666" stroke-width="1"/>
<text x="522.6" y="236.9" font-size="9.6" text-anchor="end" fill="#222" textLength="15.6" lengthAdjust="spacingAndGlyphs">4.0</text>
<line x1="522.40" y1="212.41" x2="525.40" y2="212.41" stroke="#666" stroke-width="1"/>
<text x="522.6" y="215.8" font-size="9.6" text-anchor="end" fill="#222" textLength="15.6" lengthAdjust="spacingAndGlyphs">4.5</text>
<line x1="522.40" y1="191.34" x2="525.40" y2="191.34" stroke="#666" stroke-width="1"/>
<text x="522.6" y="194.7" font-size="9.6" text-anchor="end" fill="#222" textLength="15.6" lengthAdjust="spacingAndGlyphs">5.0</text>
<line x1="522.40" y1="170.27" x2="525.40" y2="170.27" stroke="#666" stroke-width="1"/>
<text x="522.6" y="173.7" font-size="9.6" text-anchor="end" fill="#222" textLength="15.6" lengthAdjust="spacingAndGlyphs">5.5</text>
<line x1="522.40" y1="149.20" x2="525.40" y2="149.20" stroke="#666" stroke-width="1"/>
<text x="522.6" y="152.6" font-size="9.6" text-anchor="end" fill="#222" textLength="15.6" lengthAdjust="spacingAndGlyphs">6.0</text>
<line x1="522.40" y1="128.13" x2="525.40" y2="128.13" stroke="#666" stroke-width="1"/>
<text x="522.6" y="131.5" font-size="9.6" text-anchor="end" fill="#222" textLength="15.6" lengthAdjust="spacingAndGlyphs">6.5</text>
<line x1="522.40" y1="107.06" x2="525.40" y2="107.06" stroke="#666" stroke-width="1"/>
<text x="522.6" y="110.5" font-size="9.6" text-anchor="end" fill="#222" textLength="15.6" lengthAdjust="spacingAndGlyphs">7.0</text>
<line x1="522.40" y1="85.99" x2="525.40" y2="85.99" stroke="#666" stroke-width="1"/>
<text x="522.6" y="89.4" font-size="9.6" text-anchor="end" fill="#222" textLength="15.6" lengthAdjust="spacingAndGlyphs">7.5</text>
<line x1="522.40" y1="64.92" x2="525.40" y2="64.92" stroke="#666" stroke-width="1"/>
<text x="522.6" y="68.3" font-size="9.6" text-anchor="end" fill="#222" textLength="15.6" lengthAdjust="spacingAndGlyphs">8.0</text>
<line x1="522.40" y1="43.85" x2="525.40" y2="43.85" stroke="#666" stroke-width="1"/>
<text x="522.6" y="47.2" font-size="9.6" text-anchor="end" fill="#222" textLength="15.6" lengthAdjust="spacingAndGlyphs">8.5</text>
<line x1="522.40" y1="22.78" x2="525.40" y2="22.78" stroke="#666" stroke-width="1"/>
<text x="522.6" y="26.2" font-size="9.6" text-anchor="end" fill="#222" textLength="15.6" lengthAdjust="spacingAndGlyphs">9.0</text>
<line x1="557.30" y1="362.60" x2="557.30" y2="365.60" stroke="#666" stroke-width="1"/>
<text x="557.3" y="375.1" font-size="9.4" text-anchor="middle" fill="#222" textLength="16.2" lengthAdjust="spacingAndGlyphs">456</text>
<line x1="616.70" y1="362.60" x2="616.70" y2="365.60" stroke="#666" stroke-width="1"/>
<text x="616.7" y="375.1" font-size="9.4" text-anchor="middle" fill="#222" textLength="16.2" lengthAdjust="spacingAndGlyphs">458</text>
<line x1="676.10" y1="362.60" x2="676.10" y2="365.60" stroke="#666" stroke-width="1"/>
<text x="676.1" y="375.1" font-size="9.4" text-anchor="middle" fill="#222" textLength="16.2" lengthAdjust="spacingAndGlyphs">460</text>
<text x="601.9" y="385.7" font-size="9.4" text-anchor="middle" fill="#333" textLength="73.0" lengthAdjust="spacingAndGlyphs">Energy loss (eV)</text>
<text transform="translate(489.6,185.8) rotate(-90)" font-size="9.6" text-anchor="middle" fill="#333" textLength="86.4" lengthAdjust="spacingAndGlyphs">Intensity (arb. u.)</text>
<line x1="557.20" y1="17.30" x2="557.20" y2="362.60" stroke="#2a6a88" stroke-width="1.0" stroke-dasharray="2.6,1.8"/>
<line x1="629.80" y1="17.30" x2="629.80" y2="362.60" stroke="#2a6a88" stroke-width="1.0" stroke-dasharray="2.6,1.8"/>
<path d="M526.00,64.86 L527.46,64.38 L528.93,63.87 L530.39,63.62 L531.86,62.27 L533.32,62.50 L534.78,63.69 L536.25,62.82 L537.71,64.45 L539.18,61.77 L540.64,59.13 L542.10,60.62 L543.57,60.06 L545.03,58.55 L546.50,56.27 L547.96,52.48 L549.43,50.34 L550.89,43.50 L552.35,41.57 L553.82,38.14 L555.28,36.17 L556.75,38.73 L558.21,34.50 L559.67,36.62 L561.14,40.74 L562.60,43.97 L564.07,49.36 L565.53,52.72 L566.99,56.27 L568.46,61.80 L569.92,60.59 L571.39,61.86 L572.85,61.74 L574.31,62.59 L575.78,64.19 L577.24,64.08 L578.71,63.45 L580.17,62.64 L581.63,64.13 L583.10,61.45 L584.56,62.90 L586.03,62.93 L587.49,62.20 L588.96,63.21 L590.42,62.20 L591.88,61.71 L593.35,63.97 L594.81,61.99 L596.28,61.54 L597.74,59.24 L599.20,59.18 L600.67,57.96 L602.13,57.47 L603.60,57.72 L605.06,53.80 L606.52,53.21 L607.99,51.71 L609.45,46.69 L610.92,47.77 L612.38,48.04 L613.84,47.39 L615.31,44.68 L616.77,45.09 L618.24,43.69 L619.70,40.19 L621.17,40.53 L622.63,39.19 L624.09,36.02 L625.56,32.53 L627.02,32.68 L628.49,27.90 L629.95,26.96 L631.41,29.88 L632.88,32.20 L634.34,36.32 L635.81,38.33 L637.27,41.03 L638.73,42.31 L640.20,42.54 L641.66,44.88 L643.13,47.54 L644.59,47.53 L646.05,52.46 L647.52,50.13 L648.98,50.86 L650.45,53.86 L651.91,54.47 L653.37,54.61 L654.84,55.30 L656.30,56.84 L657.77,57.99 L659.23,58.47 L660.70,57.71 L662.16,58.86 L663.62,59.64 L665.09,59.86 L666.55,55.92 L668.02,58.59 L669.48,58.95 L670.94,59.75 L672.41,60.36 L673.87,61.30 L675.34,61.05 L676.80,60.26" fill="none" stroke="#459a38" stroke-width="1.35" stroke-linejoin="round"/>
<path d="M526.00,111.21 L527.46,113.35 L528.93,110.92 L530.39,112.07 L531.86,113.56 L533.32,112.29 L534.78,109.71 L536.25,112.40 L537.71,111.57 L539.18,111.88 L540.64,113.10 L542.10,111.95 L543.57,110.15 L545.03,110.05 L546.50,107.60 L547.96,102.00 L549.43,95.08 L550.89,88.66 L552.35,82.76 L553.82,77.24 L555.28,73.41 L556.75,70.20 L558.21,71.23 L559.67,78.39 L561.14,82.00 L562.60,86.72 L564.07,91.18 L565.53,95.93 L566.99,99.92 L568.46,102.88 L569.92,104.44 L571.39,108.54 L572.85,108.30 L574.31,110.79 L575.78,107.76 L577.24,108.90 L578.71,111.33 L580.17,110.22 L581.63,109.76 L583.10,111.01 L584.56,109.53 L586.03,110.82 L587.49,108.34 L588.96,110.30 L590.42,110.08 L591.88,111.27 L593.35,111.39 L594.81,109.11 L596.28,111.35 L597.74,108.38 L599.20,106.16 L600.67,105.14 L602.13,108.50 L603.60,105.30 L605.06,103.16 L606.52,101.76 L607.99,100.33 L609.45,102.00 L610.92,99.20 L612.38,99.55 L613.84,94.87 L615.31,89.87 L616.77,90.69 L618.24,86.62 L619.70,84.15 L621.17,83.60 L622.63,79.08 L624.09,78.11 L625.56,74.06 L627.02,70.56 L628.49,69.99 L629.95,67.07 L631.41,67.69 L632.88,66.68 L634.34,66.72 L635.81,70.28 L637.27,73.86 L638.73,77.03 L640.20,81.92 L641.66,84.14 L643.13,88.38 L644.59,89.84 L646.05,94.26 L647.52,97.82 L648.98,99.46 L650.45,102.37 L651.91,104.17 L653.37,107.38 L654.84,107.45 L656.30,110.03 L657.77,111.98 L659.23,110.80 L660.70,108.63 L662.16,110.54 L663.62,111.55 L665.09,110.09 L666.55,111.63 L668.02,111.09 L669.48,110.87 L670.94,110.12 L672.41,109.84 L673.87,110.13 L675.34,110.48 L676.80,110.99" fill="none" stroke="#c44242" stroke-width="1.35" stroke-linejoin="round"/>
<path d="M526.00,168.70 L527.46,168.07 L528.93,168.62 L530.39,169.09 L531.86,166.97 L533.32,167.99 L534.78,168.01 L536.25,168.71 L537.71,168.67 L539.18,168.71 L540.64,168.04 L542.10,169.75 L543.57,169.32 L545.03,167.21 L546.50,167.25 L547.96,161.67 L549.43,159.17 L550.89,149.91 L552.35,139.68 L553.82,130.94 L555.28,124.11 L556.75,118.98 L558.21,119.48 L559.67,120.70 L561.14,126.00 L562.60,131.59 L564.07,137.12 L565.53,149.24 L566.99,156.55 L568.46,162.60 L569.92,165.46 L571.39,171.56 L572.85,173.99 L574.31,173.73 L575.78,176.77 L577.24,174.73 L578.71,173.63 L580.17,173.84 L581.63,174.30 L583.10,174.18 L584.56,173.19 L586.03,173.48 L587.49,173.34 L588.96,169.95 L590.42,170.37 L591.88,169.44 L593.35,170.12 L594.81,171.09 L596.28,169.67 L597.74,167.20 L599.20,167.38 L600.67,168.12 L602.13,165.63 L603.60,165.23 L605.06,164.69 L606.52,161.24 L607.99,162.85 L609.45,160.96 L610.92,159.59 L612.38,155.83 L613.84,153.64 L615.31,151.13 L616.77,149.17 L618.24,145.83 L619.70,142.18 L621.17,139.91 L622.63,135.15 L624.09,128.81 L625.56,125.11 L627.02,123.63 L628.49,117.07 L629.95,115.27 L631.41,113.39 L632.88,111.54 L634.34,115.48 L635.81,121.02 L637.27,124.93 L638.73,130.19 L640.20,136.87 L641.66,144.17 L643.13,147.77 L644.59,151.55 L646.05,154.08 L647.52,155.48 L648.98,160.56 L650.45,157.87 L651.91,161.04 L653.37,163.53 L654.84,162.38 L656.30,165.40 L657.77,166.72 L659.23,164.86 L660.70,166.48 L662.16,165.46 L663.62,167.63 L665.09,167.54 L666.55,168.02 L668.02,169.59 L669.48,168.87 L670.94,170.06 L672.41,169.46 L673.87,167.58 L675.34,169.27 L676.80,169.56" fill="none" stroke="#459a38" stroke-width="1.35" stroke-linejoin="round"/>
<path d="M526.00,225.60 L527.46,229.14 L528.93,228.16 L530.39,228.83 L531.86,227.73 L533.32,229.02 L534.78,229.46 L536.25,228.91 L537.71,229.45 L539.18,227.11 L540.64,230.98 L542.10,228.28 L543.57,227.12 L545.03,228.46 L546.50,227.03 L547.96,219.92 L549.43,207.51 L550.89,200.51 L552.35,191.30 L553.82,188.14 L555.28,180.65 L556.75,177.47 L558.21,173.19 L559.67,179.61 L561.14,185.05 L562.60,193.19 L564.07,200.31 L565.53,205.30 L566.99,212.93 L568.46,218.79 L569.92,222.24 L571.39,225.35 L572.85,227.08 L574.31,228.08 L575.78,230.72 L577.24,231.41 L578.71,229.23 L580.17,229.79 L581.63,230.03 L583.10,229.29 L584.56,228.25 L586.03,229.35 L587.49,228.83 L588.96,228.11 L590.42,226.65 L591.88,228.63 L593.35,227.95 L594.81,225.21 L596.28,225.13 L597.74,226.17 L599.20,223.57 L600.67,224.43 L602.13,223.53 L603.60,222.13 L605.06,222.00 L606.52,219.78 L607.99,220.07 L609.45,217.46 L610.92,220.35 L612.38,216.95 L613.84,213.67 L615.31,209.55 L616.77,207.37 L618.24,204.76 L619.70,201.41 L621.17,197.94 L622.63,192.11 L624.09,189.17 L625.56,180.71 L627.02,170.64 L628.49,163.31 L629.95,163.32 L631.41,165.96 L632.88,166.26 L634.34,173.10 L635.81,177.19 L637.27,180.00 L638.73,184.68 L640.20,189.77 L641.66,196.00 L643.13,199.58 L644.59,203.48 L646.05,208.98 L647.52,209.11 L648.98,213.91 L650.45,217.16 L651.91,218.02 L653.37,219.93 L654.84,220.48 L656.30,221.25 L657.77,221.09 L659.23,220.46 L660.70,221.53 L662.16,222.07 L663.62,223.88 L665.09,224.59 L666.55,223.54 L668.02,222.49 L669.48,222.72 L670.94,223.48 L672.41,225.35 L673.87,224.28 L675.34,223.92 L676.80,223.16" fill="none" stroke="#2323c8" stroke-width="1.35" stroke-linejoin="round"/>
<path d="M526.00,284.47 L527.46,283.82 L528.93,283.44 L530.39,283.61 L531.86,285.36 L533.32,283.32 L534.78,285.36 L536.25,284.87 L537.71,283.56 L539.18,284.47 L540.64,283.36 L542.10,282.59 L543.57,283.21 L545.03,282.50 L546.50,283.11 L547.96,276.99 L549.43,269.47 L550.89,261.91 L552.35,250.02 L553.82,244.99 L555.28,234.52 L556.75,231.07 L558.21,228.69 L559.67,232.51 L561.14,239.24 L562.60,242.74 L564.07,252.16 L565.53,258.57 L566.99,262.54 L568.46,272.31 L569.92,278.33 L571.39,282.66 L572.85,284.11 L574.31,288.43 L575.78,284.47 L577.24,282.92 L578.71,283.88 L580.17,284.50 L581.63,284.48 L583.10,284.81 L584.56,283.75 L586.03,285.50 L587.49,284.37 L588.96,283.40 L590.42,284.00 L591.88,284.35 L593.35,285.44 L594.81,284.62 L596.28,283.17 L597.74,282.89 L599.20,282.30 L600.67,283.39 L602.13,279.44 L603.60,279.50 L605.06,278.55 L606.52,275.38 L607.99,275.23 L609.45,273.65 L610.92,270.38 L612.38,267.93 L613.84,264.19 L615.31,259.73 L616.77,253.74 L618.24,249.67 L619.70,246.86 L621.17,237.74 L622.63,234.42 L624.09,231.60 L625.56,227.92 L627.02,225.80 L628.49,223.11 L629.95,222.45 L631.41,222.94 L632.88,222.50 L634.34,225.25 L635.81,228.05 L637.27,231.25 L638.73,235.48 L640.20,239.24 L641.66,248.70 L643.13,257.79 L644.59,264.62 L646.05,268.06 L647.52,268.02 L648.98,272.77 L650.45,271.99 L651.91,274.15 L653.37,277.51 L654.84,275.49 L656.30,278.80 L657.77,279.42 L659.23,280.14 L660.70,280.43 L662.16,282.79 L663.62,282.51 L665.09,284.58 L666.55,284.84 L668.02,281.86 L669.48,282.57 L670.94,282.36 L672.41,280.83 L673.87,280.13 L675.34,280.48 L676.80,278.95" fill="none" stroke="#111111" stroke-width="1.35" stroke-linejoin="round"/>
<path d="M526.00,356.16 L527.46,356.79 L528.93,357.38 L530.39,354.92 L531.86,354.69 L533.32,356.94 L534.78,356.14 L536.25,352.44 L537.71,352.37 L539.18,353.99 L540.64,352.01 L542.10,352.73 L543.57,352.08 L545.03,352.58 L546.50,346.55 L547.96,336.11 L549.43,323.58 L550.89,316.48 L552.35,311.47 L553.82,307.14 L555.28,306.99 L556.75,304.05 L558.21,302.14 L559.67,305.35 L561.14,311.71 L562.60,322.65 L564.07,331.64 L565.53,338.02 L566.99,342.31 L568.46,346.10 L569.92,348.66 L571.39,351.87 L572.85,352.41 L574.31,353.48 L575.78,355.60 L577.24,355.74 L578.71,356.54 L580.17,353.97 L581.63,356.27 L583.10,354.90 L584.56,354.48 L586.03,354.20 L587.49,356.18 L588.96,355.42 L590.42,353.34 L591.88,352.44 L593.35,353.24 L594.81,352.22 L596.28,354.01 L597.74,350.02 L599.20,349.03 L600.67,350.16 L602.13,349.75 L603.60,348.94 L605.06,348.47 L606.52,348.61 L607.99,344.53 L609.45,342.81 L610.92,339.97 L612.38,340.70 L613.84,340.07 L615.31,337.59 L616.77,337.72 L618.24,334.58 L619.70,333.68 L621.17,326.49 L622.63,314.21 L624.09,305.92 L625.56,298.92 L627.02,293.13 L628.49,291.08 L629.95,289.65 L631.41,291.34 L632.88,291.38 L634.34,294.50 L635.81,297.29 L637.27,304.36 L638.73,310.31 L640.20,316.05 L641.66,322.84 L643.13,326.44 L644.59,326.92 L646.05,332.78 L647.52,335.37 L648.98,338.59 L650.45,342.27 L651.91,347.50 L653.37,348.91 L654.84,350.66 L656.30,348.61 L657.77,350.10 L659.23,352.42 L660.70,350.27 L662.16,350.81 L663.62,349.61 L665.09,353.62 L666.55,352.73 L668.02,352.03 L669.48,351.71 L670.94,350.94 L672.41,350.86 L673.87,351.85 L675.34,350.24 L676.80,352.18" fill="none" stroke="#c83ad8" stroke-width="1.35" stroke-linejoin="round"/>
<text x="669.4" y="51.6" font-size="10.5" text-anchor="middle" font-weight="bold" fill="#111">0</text>
<text x="666.4" y="101.2" font-size="10.5" text-anchor="middle" font-weight="bold" fill="#111">-1</text>
<text x="666.4" y="161.5" font-size="10.5" text-anchor="middle" font-weight="bold" fill="#111">-2</text>
<text x="666.8" y="214.7" font-size="10.5" text-anchor="middle" font-weight="bold" fill="#111">-3</text>
<text x="666.6" y="274.2" font-size="10.5" text-anchor="middle" font-weight="bold" fill="#111">-4</text>
<text x="649.6" y="338.9" font-size="10.6" font-weight="bold" fill="#111" textLength="23.0" lengthAdjust="spacingAndGlyphs">Bulk</text>
<text x="540.0" y="33.8" font-size="14.4" fill="#1a1a1a">t<tspan font-size="9.4" dy="3.2">2g</tspan></text>
<text x="609.6" y="33.8" font-size="14.4" fill="#1a1a1a">e<tspan font-size="9.4" dy="3.2">g</tspan></text>
</svg></body></html>
